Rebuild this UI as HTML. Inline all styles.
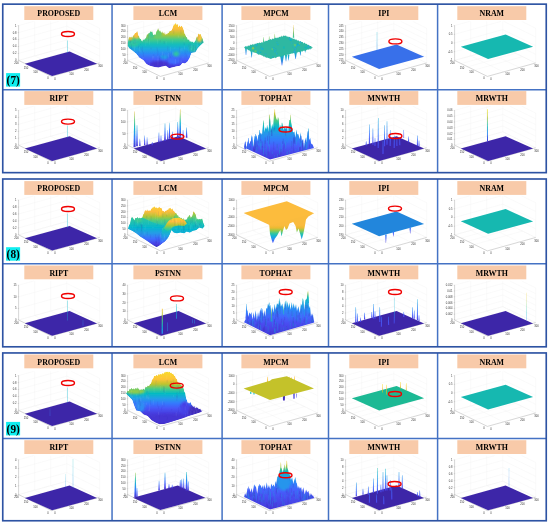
<!DOCTYPE html><html><head><meta charset="utf-8"><title>figure</title><style>
html,body{margin:0;padding:0;background:#fff}body{width:550px;height:526px;position:relative;overflow:hidden}
svg{position:absolute;left:0;top:0;display:block}text{font-family:"Liberation Sans",sans-serif}.lb text,.nb text{font-family:"Liberation Serif",serif;font-weight:bold;text-anchor:middle;fill:#000}
</style></head><body>
<svg width="550" height="526" viewBox="0 0 550 526"><defs><filter id="soft" filterUnits="userSpaceOnUse" x="0" y="0" width="550" height="526"><feGaussianBlur stdDeviation="0.4"/></filter><linearGradient id="g1" gradientUnits="userSpaceOnUse" x1="0" y1="40.6" x2="0" y2="53"><stop offset="0%" stop-color="#01b9c6"/><stop offset="25%" stop-color="#02b7cb"/><stop offset="50%" stop-color="#07b5d0"/><stop offset="75%" stop-color="#0fb2d5"/><stop offset="100%" stop-color="#15afd9"/></linearGradient><linearGradient id="g2" gradientUnits="userSpaceOnUse" x1="0" y1="32" x2="0" y2="51"><stop offset="0%" stop-color="#05b6ce"/><stop offset="25%" stop-color="#18addb"/><stop offset="50%" stop-color="#21a3e3"/><stop offset="75%" stop-color="#2798ea"/><stop offset="100%" stop-color="#2d8cf3"/></linearGradient><linearGradient id="g3" gradientUnits="userSpaceOnUse" x1="0" y1="44" x2="0" y2="48"><stop offset="0%" stop-color="#1caadf"/><stop offset="25%" stop-color="#21a3e3"/><stop offset="50%" stop-color="#259ce7"/><stop offset="75%" stop-color="#2994ed"/><stop offset="100%" stop-color="#2d8cf3"/></linearGradient><linearGradient id="g4" gradientUnits="userSpaceOnUse" x1="0" y1="125.6" x2="0" y2="137.6"><stop offset="0%" stop-color="#01b9c6"/><stop offset="25%" stop-color="#02b7cb"/><stop offset="50%" stop-color="#07b5d0"/><stop offset="75%" stop-color="#0fb2d5"/><stop offset="100%" stop-color="#15afd9"/></linearGradient><linearGradient id="g5" gradientUnits="userSpaceOnUse" x1="0" y1="111.6" x2="0" y2="147.3"><stop offset="0%" stop-color="#eaba31"/><stop offset="25%" stop-color="#54cc7d"/><stop offset="50%" stop-color="#11b1d6"/><stop offset="75%" stop-color="#3678fd"/><stop offset="100%" stop-color="#4536d3"/></linearGradient><linearGradient id="g6" gradientUnits="userSpaceOnUse" x1="0" y1="125.2" x2="0" y2="146.3"><stop offset="0%" stop-color="#15afd9"/><stop offset="25%" stop-color="#2895ec"/><stop offset="50%" stop-color="#3876fe"/><stop offset="75%" stop-color="#4755f6"/><stop offset="100%" stop-color="#4536d3"/></linearGradient><linearGradient id="g7" gradientUnits="userSpaceOnUse" x1="0" y1="138.8" x2="0" y2="146"><stop offset="0%" stop-color="#347afd"/><stop offset="25%" stop-color="#4368fd"/><stop offset="50%" stop-color="#4757f7"/><stop offset="75%" stop-color="#4746ea"/><stop offset="100%" stop-color="#4536d3"/></linearGradient><linearGradient id="g8" gradientUnits="userSpaceOnUse" x1="0" y1="135.6" x2="0" y2="145.2"><stop offset="0%" stop-color="#2d8cf3"/><stop offset="25%" stop-color="#3876fe"/><stop offset="50%" stop-color="#465ffb"/><stop offset="75%" stop-color="#484aee"/><stop offset="100%" stop-color="#4536d3"/></linearGradient><linearGradient id="g9" gradientUnits="userSpaceOnUse" x1="0" y1="137.2" x2="0" y2="145.2"><stop offset="0%" stop-color="#2e85f8"/><stop offset="25%" stop-color="#3d70ff"/><stop offset="50%" stop-color="#475cfa"/><stop offset="75%" stop-color="#4848ec"/><stop offset="100%" stop-color="#4536d3"/></linearGradient><linearGradient id="g10" gradientUnits="userSpaceOnUse" x1="0" y1="142" x2="0" y2="145.2"><stop offset="0%" stop-color="#4367fd"/><stop offset="25%" stop-color="#475af9"/><stop offset="50%" stop-color="#484ef1"/><stop offset="75%" stop-color="#4741e5"/><stop offset="100%" stop-color="#4536d3"/></linearGradient><linearGradient id="g11" gradientUnits="userSpaceOnUse" x1="0" y1="132.4" x2="0" y2="142.5"><stop offset="0%" stop-color="#2a92ee"/><stop offset="25%" stop-color="#327cfc"/><stop offset="50%" stop-color="#4563fd"/><stop offset="75%" stop-color="#484cef"/><stop offset="100%" stop-color="#4536d3"/></linearGradient><linearGradient id="g12" gradientUnits="userSpaceOnUse" x1="0" y1="135.6" x2="0" y2="142"><stop offset="0%" stop-color="#2e85f8"/><stop offset="25%" stop-color="#3d70ff"/><stop offset="50%" stop-color="#475cfa"/><stop offset="75%" stop-color="#4848ec"/><stop offset="100%" stop-color="#4536d3"/></linearGradient><linearGradient id="g13" gradientUnits="userSpaceOnUse" x1="0" y1="123.6" x2="0" y2="140.9"><stop offset="0%" stop-color="#1caadf"/><stop offset="25%" stop-color="#2b91ef"/><stop offset="50%" stop-color="#3b72ff"/><stop offset="75%" stop-color="#4853f5"/><stop offset="100%" stop-color="#4536d3"/></linearGradient><linearGradient id="g14" gradientUnits="userSpaceOnUse" x1="0" y1="130" x2="0" y2="139.9"><stop offset="0%" stop-color="#2d8cf3"/><stop offset="25%" stop-color="#3876fe"/><stop offset="50%" stop-color="#465ffb"/><stop offset="75%" stop-color="#484aee"/><stop offset="100%" stop-color="#4536d3"/></linearGradient><linearGradient id="g15" gradientUnits="userSpaceOnUse" x1="0" y1="122.8" x2="0" y2="138.8"><stop offset="0%" stop-color="#1caadf"/><stop offset="25%" stop-color="#2b91ef"/><stop offset="50%" stop-color="#3b72ff"/><stop offset="75%" stop-color="#4853f5"/><stop offset="100%" stop-color="#4536d3"/></linearGradient><linearGradient id="g16" gradientUnits="userSpaceOnUse" x1="0" y1="131.6" x2="0" y2="138"><stop offset="0%" stop-color="#2d8cf3"/><stop offset="25%" stop-color="#3876fe"/><stop offset="50%" stop-color="#465ffb"/><stop offset="75%" stop-color="#484aee"/><stop offset="100%" stop-color="#4536d3"/></linearGradient><linearGradient id="g17" gradientUnits="userSpaceOnUse" x1="0" y1="122" x2="0" y2="138"><stop offset="0%" stop-color="#15afd9"/><stop offset="25%" stop-color="#2895ec"/><stop offset="50%" stop-color="#3876fe"/><stop offset="75%" stop-color="#4755f6"/><stop offset="100%" stop-color="#4536d3"/></linearGradient><linearGradient id="g18" gradientUnits="userSpaceOnUse" x1="0" y1="109.2" x2="0" y2="136.7"><stop offset="0%" stop-color="#fec13a"/><stop offset="25%" stop-color="#73cd63"/><stop offset="50%" stop-color="#03b7cc"/><stop offset="75%" stop-color="#317dfc"/><stop offset="100%" stop-color="#4536d3"/></linearGradient><linearGradient id="g19" gradientUnits="userSpaceOnUse" x1="0" y1="130" x2="0" y2="136.7"><stop offset="0%" stop-color="#2d8cf3"/><stop offset="25%" stop-color="#3876fe"/><stop offset="50%" stop-color="#465ffb"/><stop offset="75%" stop-color="#484aee"/><stop offset="100%" stop-color="#4536d3"/></linearGradient><linearGradient id="g20" gradientUnits="userSpaceOnUse" x1="0" y1="127.6" x2="0" y2="137.7"><stop offset="0%" stop-color="#20a4e3"/><stop offset="25%" stop-color="#2d8cf3"/><stop offset="50%" stop-color="#3f6eff"/><stop offset="75%" stop-color="#4851f4"/><stop offset="100%" stop-color="#4536d3"/></linearGradient><linearGradient id="g21" gradientUnits="userSpaceOnUse" x1="0" y1="141.2" x2="0" y2="145.5"><stop offset="0%" stop-color="#416bfe"/><stop offset="25%" stop-color="#4660fc"/><stop offset="50%" stop-color="#4757f7"/><stop offset="75%" stop-color="#484df0"/><stop offset="100%" stop-color="#4743e7"/></linearGradient><linearGradient id="g22" gradientUnits="userSpaceOnUse" x1="0" y1="124.4" x2="0" y2="144.1"><stop offset="0%" stop-color="#249fe6"/><stop offset="25%" stop-color="#2d8af4"/><stop offset="50%" stop-color="#3b72ff"/><stop offset="75%" stop-color="#475af9"/><stop offset="100%" stop-color="#4743e7"/></linearGradient><linearGradient id="g23" gradientUnits="userSpaceOnUse" x1="0" y1="128.4" x2="0" y2="144.7"><stop offset="0%" stop-color="#2699ea"/><stop offset="25%" stop-color="#2e85f8"/><stop offset="50%" stop-color="#3f6eff"/><stop offset="75%" stop-color="#4758f8"/><stop offset="100%" stop-color="#4743e7"/></linearGradient><linearGradient id="g24" gradientUnits="userSpaceOnUse" x1="0" y1="138" x2="0" y2="146"><stop offset="0%" stop-color="#3876fe"/><stop offset="25%" stop-color="#4369fe"/><stop offset="50%" stop-color="#475cfa"/><stop offset="75%" stop-color="#4850f2"/><stop offset="100%" stop-color="#4743e7"/></linearGradient><linearGradient id="g25" gradientUnits="userSpaceOnUse" x1="0" y1="118" x2="0" y2="147.9"><stop offset="0%" stop-color="#15afd9"/><stop offset="25%" stop-color="#2699ea"/><stop offset="50%" stop-color="#317efb"/><stop offset="75%" stop-color="#465ffb"/><stop offset="100%" stop-color="#4743e7"/></linearGradient><linearGradient id="g26" gradientUnits="userSpaceOnUse" x1="0" y1="125.2" x2="0" y2="146.3"><stop offset="0%" stop-color="#249fe6"/><stop offset="25%" stop-color="#2d8af4"/><stop offset="50%" stop-color="#3b72ff"/><stop offset="75%" stop-color="#475af9"/><stop offset="100%" stop-color="#4743e7"/></linearGradient><linearGradient id="g27" gradientUnits="userSpaceOnUse" x1="0" y1="121.2" x2="0" y2="144.7"><stop offset="0%" stop-color="#20a4e3"/><stop offset="25%" stop-color="#2c8ff1"/><stop offset="50%" stop-color="#3876fe"/><stop offset="75%" stop-color="#475cfa"/><stop offset="100%" stop-color="#4743e7"/></linearGradient><linearGradient id="g28" gradientUnits="userSpaceOnUse" x1="0" y1="130" x2="0" y2="146"><stop offset="0%" stop-color="#2a92ee"/><stop offset="25%" stop-color="#3080fb"/><stop offset="50%" stop-color="#416bfe"/><stop offset="75%" stop-color="#4757f7"/><stop offset="100%" stop-color="#4743e7"/></linearGradient><linearGradient id="g29" gradientUnits="userSpaceOnUse" x1="0" y1="135.6" x2="0" y2="147.9"><stop offset="0%" stop-color="#2d8cf3"/><stop offset="25%" stop-color="#347afd"/><stop offset="50%" stop-color="#4367fd"/><stop offset="75%" stop-color="#4755f6"/><stop offset="100%" stop-color="#4743e7"/></linearGradient><linearGradient id="g30" gradientUnits="userSpaceOnUse" x1="0" y1="140.4" x2="0" y2="154"><stop offset="0%" stop-color="#317efb"/><stop offset="25%" stop-color="#3f6eff"/><stop offset="50%" stop-color="#465ffb"/><stop offset="75%" stop-color="#4851f4"/><stop offset="100%" stop-color="#4743e7"/></linearGradient><linearGradient id="g31" gradientUnits="userSpaceOnUse" x1="0" y1="138" x2="0" y2="146"><stop offset="0%" stop-color="#3876fe"/><stop offset="25%" stop-color="#4369fe"/><stop offset="50%" stop-color="#475cfa"/><stop offset="75%" stop-color="#4850f2"/><stop offset="100%" stop-color="#4743e7"/></linearGradient><linearGradient id="g32" gradientUnits="userSpaceOnUse" x1="0" y1="138.8" x2="0" y2="145.2"><stop offset="0%" stop-color="#416bfe"/><stop offset="25%" stop-color="#4660fc"/><stop offset="50%" stop-color="#4757f7"/><stop offset="75%" stop-color="#484df0"/><stop offset="100%" stop-color="#4743e7"/></linearGradient><linearGradient id="g33" gradientUnits="userSpaceOnUse" x1="0" y1="130" x2="0" y2="138"><stop offset="0%" stop-color="#317efb"/><stop offset="25%" stop-color="#3f6eff"/><stop offset="50%" stop-color="#465ffb"/><stop offset="75%" stop-color="#4851f4"/><stop offset="100%" stop-color="#4743e7"/></linearGradient><linearGradient id="g34" gradientUnits="userSpaceOnUse" x1="0" y1="136.4" x2="0" y2="142.2"><stop offset="0%" stop-color="#317efb"/><stop offset="25%" stop-color="#3f6eff"/><stop offset="50%" stop-color="#465ffb"/><stop offset="75%" stop-color="#4851f4"/><stop offset="100%" stop-color="#4743e7"/></linearGradient><linearGradient id="g35" gradientUnits="userSpaceOnUse" x1="0" y1="135.6" x2="0" y2="146"><stop offset="0%" stop-color="#2d8cf3"/><stop offset="25%" stop-color="#347afd"/><stop offset="50%" stop-color="#4367fd"/><stop offset="75%" stop-color="#4755f6"/><stop offset="100%" stop-color="#4743e7"/></linearGradient><linearGradient id="g36" gradientUnits="userSpaceOnUse" x1="0" y1="140.4" x2="0" y2="146.3"><stop offset="0%" stop-color="#3876fe"/><stop offset="25%" stop-color="#4369fe"/><stop offset="50%" stop-color="#475cfa"/><stop offset="75%" stop-color="#4850f2"/><stop offset="100%" stop-color="#4743e7"/></linearGradient><linearGradient id="g37" gradientUnits="userSpaceOnUse" x1="0" y1="109.2" x2="0" y2="141.5"><stop offset="0%" stop-color="#f5e825"/><stop offset="25%" stop-color="#bbc430"/><stop offset="50%" stop-color="#1ec0b2"/><stop offset="75%" stop-color="#2d8bf4"/><stop offset="100%" stop-color="#463cde"/></linearGradient><linearGradient id="g38" gradientUnits="userSpaceOnUse" x1="0" y1="213.6" x2="0" y2="227.6"><stop offset="0%" stop-color="#01b9c6"/><stop offset="25%" stop-color="#02b7cb"/><stop offset="50%" stop-color="#07b5d0"/><stop offset="75%" stop-color="#0fb2d5"/><stop offset="100%" stop-color="#15afd9"/></linearGradient><linearGradient id="g39" gradientUnits="userSpaceOnUse" x1="0" y1="234.4" x2="0" y2="243"><stop offset="0%" stop-color="#2d8cf3"/><stop offset="33.3%" stop-color="#406dfe"/><stop offset="66.7%" stop-color="#484ff2"/><stop offset="100%" stop-color="#4433cc"/></linearGradient><linearGradient id="g40" gradientUnits="userSpaceOnUse" x1="0" y1="231.2" x2="0" y2="236.6"><stop offset="0%" stop-color="#2d8cf3"/><stop offset="33.3%" stop-color="#406dfe"/><stop offset="66.7%" stop-color="#484ff2"/><stop offset="100%" stop-color="#4433cc"/></linearGradient><linearGradient id="g41" gradientUnits="userSpaceOnUse" x1="0" y1="227.2" x2="0" y2="233.4"><stop offset="0%" stop-color="#2d8cf3"/><stop offset="33.3%" stop-color="#406dfe"/><stop offset="66.7%" stop-color="#484ff2"/><stop offset="100%" stop-color="#4433cc"/></linearGradient><linearGradient id="g42" gradientUnits="userSpaceOnUse" x1="0" y1="210.4" x2="0" y2="214"><stop offset="0%" stop-color="#1caadf"/><stop offset="25%" stop-color="#21a3e3"/><stop offset="50%" stop-color="#259ce7"/><stop offset="75%" stop-color="#2994ed"/><stop offset="100%" stop-color="#2d8cf3"/></linearGradient><linearGradient id="g43" gradientUnits="userSpaceOnUse" x1="0" y1="300.6" x2="0" y2="320.4"><stop offset="0%" stop-color="#01b9c6"/><stop offset="25%" stop-color="#02b7cb"/><stop offset="50%" stop-color="#07b5d0"/><stop offset="75%" stop-color="#0fb2d5"/><stop offset="100%" stop-color="#15afd9"/></linearGradient><linearGradient id="g44" gradientUnits="userSpaceOnUse" x1="0" y1="320" x2="0" y2="326"><stop offset="0%" stop-color="#1caadf"/><stop offset="25%" stop-color="#259ce7"/><stop offset="50%" stop-color="#2d8cf3"/><stop offset="75%" stop-color="#347afd"/><stop offset="100%" stop-color="#4367fd"/></linearGradient><linearGradient id="g45" gradientUnits="userSpaceOnUse" x1="0" y1="308.8" x2="0" y2="333.8"><stop offset="0%" stop-color="#fec437"/><stop offset="25%" stop-color="#b0c636"/><stop offset="50%" stop-color="#3bc992"/><stop offset="75%" stop-color="#0ab4d2"/><stop offset="100%" stop-color="#2d8cf3"/></linearGradient><linearGradient id="g46" gradientUnits="userSpaceOnUse" x1="0" y1="304" x2="0" y2="318.7"><stop offset="0%" stop-color="#01b9c6"/><stop offset="25%" stop-color="#04b6cd"/><stop offset="50%" stop-color="#0eb3d4"/><stop offset="75%" stop-color="#16afda"/><stop offset="100%" stop-color="#1caadf"/></linearGradient><linearGradient id="g47" gradientUnits="userSpaceOnUse" x1="0" y1="322.4" x2="0" y2="331.2"><stop offset="0%" stop-color="#2d8cf3"/><stop offset="25%" stop-color="#2994ed"/><stop offset="50%" stop-color="#259ce7"/><stop offset="75%" stop-color="#21a3e3"/><stop offset="100%" stop-color="#1caadf"/></linearGradient><linearGradient id="g48" gradientUnits="userSpaceOnUse" x1="0" y1="319.2" x2="0" y2="323.2"><stop offset="0%" stop-color="#2d8cf3"/><stop offset="25%" stop-color="#2994ed"/><stop offset="50%" stop-color="#259ce7"/><stop offset="75%" stop-color="#21a3e3"/><stop offset="100%" stop-color="#1caadf"/></linearGradient><linearGradient id="g49" gradientUnits="userSpaceOnUse" x1="0" y1="319.7" x2="0" y2="323.5"><stop offset="0%" stop-color="#2d8cf3"/><stop offset="25%" stop-color="#2994ed"/><stop offset="50%" stop-color="#259ce7"/><stop offset="75%" stop-color="#21a3e3"/><stop offset="100%" stop-color="#1caadf"/></linearGradient><linearGradient id="g50" gradientUnits="userSpaceOnUse" x1="0" y1="307.2" x2="0" y2="322.6"><stop offset="0%" stop-color="#20a4e3"/><stop offset="25%" stop-color="#2c8ff1"/><stop offset="50%" stop-color="#3876fe"/><stop offset="75%" stop-color="#475cfa"/><stop offset="100%" stop-color="#4743e7"/></linearGradient><linearGradient id="g51" gradientUnits="userSpaceOnUse" x1="0" y1="313.6" x2="0" y2="322.6"><stop offset="0%" stop-color="#2d8cf3"/><stop offset="25%" stop-color="#347afd"/><stop offset="50%" stop-color="#4367fd"/><stop offset="75%" stop-color="#4755f6"/><stop offset="100%" stop-color="#4743e7"/></linearGradient><linearGradient id="g52" gradientUnits="userSpaceOnUse" x1="0" y1="317.6" x2="0" y2="321.9"><stop offset="0%" stop-color="#416bfe"/><stop offset="25%" stop-color="#4660fc"/><stop offset="50%" stop-color="#4757f7"/><stop offset="75%" stop-color="#484df0"/><stop offset="100%" stop-color="#4743e7"/></linearGradient><linearGradient id="g53" gradientUnits="userSpaceOnUse" x1="0" y1="312.8" x2="0" y2="319.4"><stop offset="0%" stop-color="#2f81fa"/><stop offset="25%" stop-color="#3c71ff"/><stop offset="50%" stop-color="#4561fc"/><stop offset="75%" stop-color="#4852f4"/><stop offset="100%" stop-color="#4743e7"/></linearGradient><linearGradient id="g54" gradientUnits="userSpaceOnUse" x1="0" y1="312" x2="0" y2="317.8"><stop offset="0%" stop-color="#317efb"/><stop offset="25%" stop-color="#3f6eff"/><stop offset="50%" stop-color="#465ffb"/><stop offset="75%" stop-color="#4851f4"/><stop offset="100%" stop-color="#4743e7"/></linearGradient><linearGradient id="g55" gradientUnits="userSpaceOnUse" x1="0" y1="304" x2="0" y2="318.7"><stop offset="0%" stop-color="#249fe6"/><stop offset="25%" stop-color="#2d8af4"/><stop offset="50%" stop-color="#3b72ff"/><stop offset="75%" stop-color="#475af9"/><stop offset="100%" stop-color="#4743e7"/></linearGradient><linearGradient id="g56" gradientUnits="userSpaceOnUse" x1="0" y1="311.2" x2="0" y2="318.7"><stop offset="0%" stop-color="#2f81fa"/><stop offset="25%" stop-color="#3c71ff"/><stop offset="50%" stop-color="#4561fc"/><stop offset="75%" stop-color="#4852f4"/><stop offset="100%" stop-color="#4743e7"/></linearGradient><linearGradient id="g57" gradientUnits="userSpaceOnUse" x1="0" y1="307.2" x2="0" y2="321.9"><stop offset="0%" stop-color="#249fe6"/><stop offset="25%" stop-color="#2d8af4"/><stop offset="50%" stop-color="#3b72ff"/><stop offset="75%" stop-color="#475af9"/><stop offset="100%" stop-color="#4743e7"/></linearGradient><linearGradient id="g58" gradientUnits="userSpaceOnUse" x1="0" y1="316.8" x2="0" y2="326.7"><stop offset="0%" stop-color="#317efb"/><stop offset="25%" stop-color="#3f6eff"/><stop offset="50%" stop-color="#465ffb"/><stop offset="75%" stop-color="#4851f4"/><stop offset="100%" stop-color="#4743e7"/></linearGradient><linearGradient id="g59" gradientUnits="userSpaceOnUse" x1="0" y1="316.8" x2="0" y2="325.1"><stop offset="0%" stop-color="#317efb"/><stop offset="25%" stop-color="#3f6eff"/><stop offset="50%" stop-color="#465ffb"/><stop offset="75%" stop-color="#4851f4"/><stop offset="100%" stop-color="#4743e7"/></linearGradient><linearGradient id="g60" gradientUnits="userSpaceOnUse" x1="0" y1="312" x2="0" y2="323.5"><stop offset="0%" stop-color="#20a4e3"/><stop offset="25%" stop-color="#2c8ff1"/><stop offset="50%" stop-color="#3876fe"/><stop offset="75%" stop-color="#475cfa"/><stop offset="100%" stop-color="#4743e7"/></linearGradient><linearGradient id="g61" gradientUnits="userSpaceOnUse" x1="0" y1="312" x2="0" y2="317.1"><stop offset="0%" stop-color="#3876fe"/><stop offset="25%" stop-color="#4369fe"/><stop offset="50%" stop-color="#475cfa"/><stop offset="75%" stop-color="#4850f2"/><stop offset="100%" stop-color="#4743e7"/></linearGradient><linearGradient id="g62" gradientUnits="userSpaceOnUse" x1="0" y1="307.2" x2="0" y2="318.7"><stop offset="0%" stop-color="#2699ea"/><stop offset="25%" stop-color="#2e85f8"/><stop offset="50%" stop-color="#3f6eff"/><stop offset="75%" stop-color="#4758f8"/><stop offset="100%" stop-color="#4743e7"/></linearGradient><linearGradient id="g63" gradientUnits="userSpaceOnUse" x1="0" y1="310.4" x2="0" y2="318.7"><stop offset="0%" stop-color="#2e85f8"/><stop offset="25%" stop-color="#3974fe"/><stop offset="50%" stop-color="#4563fd"/><stop offset="75%" stop-color="#4853f5"/><stop offset="100%" stop-color="#4743e7"/></linearGradient><linearGradient id="g64" gradientUnits="userSpaceOnUse" x1="0" y1="299.2" x2="0" y2="320.3"><stop offset="0%" stop-color="#19addc"/><stop offset="25%" stop-color="#2796eb"/><stop offset="50%" stop-color="#327cfc"/><stop offset="75%" stop-color="#465ffb"/><stop offset="100%" stop-color="#4743e7"/></linearGradient><linearGradient id="g65" gradientUnits="userSpaceOnUse" x1="0" y1="315.2" x2="0" y2="321"><stop offset="0%" stop-color="#3876fe"/><stop offset="25%" stop-color="#4369fe"/><stop offset="50%" stop-color="#475cfa"/><stop offset="75%" stop-color="#4850f2"/><stop offset="100%" stop-color="#4743e7"/></linearGradient><linearGradient id="g66" gradientUnits="userSpaceOnUse" x1="0" y1="297.6" x2="0" y2="312.8"><stop offset="0%" stop-color="#05b6ce"/><stop offset="25%" stop-color="#0cb3d3"/><stop offset="50%" stop-color="#13b0d7"/><stop offset="75%" stop-color="#18addb"/><stop offset="100%" stop-color="#1caadf"/></linearGradient><linearGradient id="g67" gradientUnits="userSpaceOnUse" x1="0" y1="292.8" x2="0" y2="320.3"><stop offset="0%" stop-color="#fad42e"/><stop offset="25%" stop-color="#c8c129"/><stop offset="50%" stop-color="#48cb86"/><stop offset="75%" stop-color="#05b6ce"/><stop offset="100%" stop-color="#2d8cf3"/></linearGradient><linearGradient id="g68" gradientUnits="userSpaceOnUse" x1="0" y1="387.6" x2="0" y2="402.4"><stop offset="0%" stop-color="#01b9c6"/><stop offset="25%" stop-color="#02b7cb"/><stop offset="50%" stop-color="#07b5d0"/><stop offset="75%" stop-color="#0fb2d5"/><stop offset="100%" stop-color="#15afd9"/></linearGradient><linearGradient id="g69" gradientUnits="userSpaceOnUse" x1="0" y1="408" x2="0" y2="416"><stop offset="0%" stop-color="#1caadf"/><stop offset="25%" stop-color="#259ce7"/><stop offset="50%" stop-color="#2d8cf3"/><stop offset="75%" stop-color="#347afd"/><stop offset="100%" stop-color="#4367fd"/></linearGradient><linearGradient id="g70" gradientUnits="userSpaceOnUse" x1="0" y1="384" x2="0" y2="392.4"><stop offset="0%" stop-color="#f5e825"/><stop offset="25%" stop-color="#fccf30"/><stop offset="50%" stop-color="#f8ba3d"/><stop offset="75%" stop-color="#d2bf27"/><stop offset="100%" stop-color="#9fc942"/></linearGradient><linearGradient id="g71" gradientUnits="userSpaceOnUse" x1="0" y1="384.8" x2="0" y2="394.4"><stop offset="0%" stop-color="#f5e825"/><stop offset="25%" stop-color="#fccf30"/><stop offset="50%" stop-color="#f8ba3d"/><stop offset="75%" stop-color="#d2bf27"/><stop offset="100%" stop-color="#9fc942"/></linearGradient><linearGradient id="g72" gradientUnits="userSpaceOnUse" x1="0" y1="382" x2="0" y2="388.4"><stop offset="0%" stop-color="#f5e825"/><stop offset="25%" stop-color="#fccf30"/><stop offset="50%" stop-color="#f8ba3d"/><stop offset="75%" stop-color="#d2bf27"/><stop offset="100%" stop-color="#9fc942"/></linearGradient><linearGradient id="g73" gradientUnits="userSpaceOnUse" x1="0" y1="383.2" x2="0" y2="390.8"><stop offset="0%" stop-color="#f5e825"/><stop offset="25%" stop-color="#fccf30"/><stop offset="50%" stop-color="#f8ba3d"/><stop offset="75%" stop-color="#d2bf27"/><stop offset="100%" stop-color="#9fc942"/></linearGradient><linearGradient id="g74" gradientUnits="userSpaceOnUse" x1="0" y1="474" x2="0" y2="487"><stop offset="0%" stop-color="#05b6ce"/><stop offset="25%" stop-color="#18addb"/><stop offset="50%" stop-color="#21a3e3"/><stop offset="75%" stop-color="#2798ea"/><stop offset="100%" stop-color="#2d8cf3"/></linearGradient><linearGradient id="g75" gradientUnits="userSpaceOnUse" x1="0" y1="459" x2="0" y2="488"><stop offset="0%" stop-color="#12beb9"/><stop offset="25%" stop-color="#05b6ce"/><stop offset="50%" stop-color="#1caadf"/><stop offset="75%" stop-color="#259ce7"/><stop offset="100%" stop-color="#2d8cf3"/></linearGradient><linearGradient id="g76" gradientUnits="userSpaceOnUse" x1="0" y1="472.8" x2="0" y2="497"><stop offset="0%" stop-color="#9fc942"/><stop offset="25%" stop-color="#2cc4a7"/><stop offset="50%" stop-color="#20a4e3"/><stop offset="75%" stop-color="#3f6eff"/><stop offset="100%" stop-color="#4536d3"/></linearGradient><linearGradient id="g77" gradientUnits="userSpaceOnUse" x1="0" y1="488" x2="0" y2="497"><stop offset="0%" stop-color="#2d8cf3"/><stop offset="25%" stop-color="#3876fe"/><stop offset="50%" stop-color="#465ffb"/><stop offset="75%" stop-color="#484aee"/><stop offset="100%" stop-color="#4536d3"/></linearGradient><linearGradient id="g78" gradientUnits="userSpaceOnUse" x1="0" y1="480.8" x2="0" y2="490.6"><stop offset="0%" stop-color="#2d8cf3"/><stop offset="25%" stop-color="#3876fe"/><stop offset="50%" stop-color="#465ffb"/><stop offset="75%" stop-color="#484aee"/><stop offset="100%" stop-color="#4536d3"/></linearGradient><linearGradient id="g79" gradientUnits="userSpaceOnUse" x1="0" y1="472.8" x2="0" y2="489"><stop offset="0%" stop-color="#1caadf"/><stop offset="25%" stop-color="#2b91ef"/><stop offset="50%" stop-color="#3b72ff"/><stop offset="75%" stop-color="#4853f5"/><stop offset="100%" stop-color="#4536d3"/></linearGradient><linearGradient id="g80" gradientUnits="userSpaceOnUse" x1="0" y1="484" x2="0" y2="488.3"><stop offset="0%" stop-color="#347afd"/><stop offset="25%" stop-color="#4368fd"/><stop offset="50%" stop-color="#4757f7"/><stop offset="75%" stop-color="#4746ea"/><stop offset="100%" stop-color="#4536d3"/></linearGradient><linearGradient id="g81" gradientUnits="userSpaceOnUse" x1="0" y1="484.8" x2="0" y2="488.3"><stop offset="0%" stop-color="#347afd"/><stop offset="25%" stop-color="#4368fd"/><stop offset="50%" stop-color="#4757f7"/><stop offset="75%" stop-color="#4746ea"/><stop offset="100%" stop-color="#4536d3"/></linearGradient><linearGradient id="g82" gradientUnits="userSpaceOnUse" x1="0" y1="480" x2="0" y2="487.4"><stop offset="0%" stop-color="#2d8cf3"/><stop offset="25%" stop-color="#3876fe"/><stop offset="50%" stop-color="#465ffb"/><stop offset="75%" stop-color="#484aee"/><stop offset="100%" stop-color="#4536d3"/></linearGradient><linearGradient id="g83" gradientUnits="userSpaceOnUse" x1="0" y1="479.2" x2="0" y2="488.3"><stop offset="0%" stop-color="#2a92ee"/><stop offset="25%" stop-color="#327cfc"/><stop offset="50%" stop-color="#4563fd"/><stop offset="75%" stop-color="#484cef"/><stop offset="100%" stop-color="#4536d3"/></linearGradient><linearGradient id="g84" gradientUnits="userSpaceOnUse" x1="0" y1="478.4" x2="0" y2="489"><stop offset="0%" stop-color="#2699ea"/><stop offset="25%" stop-color="#2f81fa"/><stop offset="50%" stop-color="#4367fd"/><stop offset="75%" stop-color="#484ef1"/><stop offset="100%" stop-color="#4536d3"/></linearGradient><linearGradient id="g85" gradientUnits="userSpaceOnUse" x1="0" y1="472" x2="0" y2="490.6"><stop offset="0%" stop-color="#12beb9"/><stop offset="25%" stop-color="#1ea7e1"/><stop offset="50%" stop-color="#2e85f8"/><stop offset="75%" stop-color="#475cfa"/><stop offset="100%" stop-color="#4536d3"/></linearGradient><linearGradient id="g86" gradientUnits="userSpaceOnUse" x1="0" y1="481.6" x2="0" y2="490.6"><stop offset="0%" stop-color="#2d8cf3"/><stop offset="25%" stop-color="#3876fe"/><stop offset="50%" stop-color="#465ffb"/><stop offset="75%" stop-color="#484aee"/><stop offset="100%" stop-color="#4536d3"/></linearGradient><linearGradient id="g87" gradientUnits="userSpaceOnUse" x1="0" y1="482.4" x2="0" y2="496.3"><stop offset="0%" stop-color="#20a4e3"/><stop offset="25%" stop-color="#2c8ff1"/><stop offset="50%" stop-color="#3876fe"/><stop offset="75%" stop-color="#475cfa"/><stop offset="100%" stop-color="#4743e7"/></linearGradient><linearGradient id="g88" gradientUnits="userSpaceOnUse" x1="0" y1="488.8" x2="0" y2="494.7"><stop offset="0%" stop-color="#317efb"/><stop offset="25%" stop-color="#3f6eff"/><stop offset="50%" stop-color="#465ffb"/><stop offset="75%" stop-color="#4851f4"/><stop offset="100%" stop-color="#4743e7"/></linearGradient><linearGradient id="g89" gradientUnits="userSpaceOnUse" x1="0" y1="486.4" x2="0" y2="494.7"><stop offset="0%" stop-color="#2e85f8"/><stop offset="25%" stop-color="#3974fe"/><stop offset="50%" stop-color="#4563fd"/><stop offset="75%" stop-color="#4853f5"/><stop offset="100%" stop-color="#4743e7"/></linearGradient><linearGradient id="g90" gradientUnits="userSpaceOnUse" x1="0" y1="492.8" x2="0" y2="502.7"><stop offset="0%" stop-color="#3876fe"/><stop offset="25%" stop-color="#4369fe"/><stop offset="50%" stop-color="#475cfa"/><stop offset="75%" stop-color="#4850f2"/><stop offset="100%" stop-color="#4743e7"/></linearGradient><linearGradient id="g91" gradientUnits="userSpaceOnUse" x1="0" y1="478.4" x2="0" y2="493.1"><stop offset="0%" stop-color="#249fe6"/><stop offset="25%" stop-color="#2d8af4"/><stop offset="50%" stop-color="#3b72ff"/><stop offset="75%" stop-color="#475af9"/><stop offset="100%" stop-color="#4743e7"/></linearGradient><linearGradient id="g92" gradientUnits="userSpaceOnUse" x1="0" y1="468" x2="0" y2="493.8"><stop offset="0%" stop-color="#27c2ac"/><stop offset="25%" stop-color="#14b0d8"/><stop offset="50%" stop-color="#2b91ef"/><stop offset="75%" stop-color="#426afe"/><stop offset="100%" stop-color="#4743e7"/></linearGradient><linearGradient id="g93" gradientUnits="userSpaceOnUse" x1="0" y1="484.8" x2="0" y2="492.2"><stop offset="0%" stop-color="#2e85f8"/><stop offset="25%" stop-color="#3974fe"/><stop offset="50%" stop-color="#4563fd"/><stop offset="75%" stop-color="#4853f5"/><stop offset="100%" stop-color="#4743e7"/></linearGradient><linearGradient id="g94" gradientUnits="userSpaceOnUse" x1="0" y1="472" x2="0" y2="491.5"><stop offset="0%" stop-color="#19addc"/><stop offset="25%" stop-color="#2796eb"/><stop offset="50%" stop-color="#327cfc"/><stop offset="75%" stop-color="#465ffb"/><stop offset="100%" stop-color="#4743e7"/></linearGradient><linearGradient id="g95" gradientUnits="userSpaceOnUse" x1="0" y1="468.8" x2="0" y2="490.6"><stop offset="0%" stop-color="#01b9c6"/><stop offset="25%" stop-color="#21a4e3"/><stop offset="50%" stop-color="#2e87f7"/><stop offset="75%" stop-color="#4564fd"/><stop offset="100%" stop-color="#4743e7"/></linearGradient><linearGradient id="g96" gradientUnits="userSpaceOnUse" x1="0" y1="475.2" x2="0" y2="490.6"><stop offset="0%" stop-color="#249fe6"/><stop offset="25%" stop-color="#2d8af4"/><stop offset="50%" stop-color="#3b72ff"/><stop offset="75%" stop-color="#475af9"/><stop offset="100%" stop-color="#4743e7"/></linearGradient><linearGradient id="g97" gradientUnits="userSpaceOnUse" x1="0" y1="480" x2="0" y2="490.6"><stop offset="0%" stop-color="#2a92ee"/><stop offset="25%" stop-color="#3080fb"/><stop offset="50%" stop-color="#416bfe"/><stop offset="75%" stop-color="#4757f7"/><stop offset="100%" stop-color="#4743e7"/></linearGradient><linearGradient id="g98" gradientUnits="userSpaceOnUse" x1="0" y1="472" x2="0" y2="486.7"><stop offset="0%" stop-color="#20a4e3"/><stop offset="25%" stop-color="#2c8ff1"/><stop offset="50%" stop-color="#3876fe"/><stop offset="75%" stop-color="#475cfa"/><stop offset="100%" stop-color="#4743e7"/></linearGradient><linearGradient id="g99" gradientUnits="userSpaceOnUse" x1="0" y1="475.2" x2="0" y2="488.3"><stop offset="0%" stop-color="#2699ea"/><stop offset="25%" stop-color="#2e85f8"/><stop offset="50%" stop-color="#3f6eff"/><stop offset="75%" stop-color="#4758f8"/><stop offset="100%" stop-color="#4743e7"/></linearGradient><linearGradient id="g100" gradientUnits="userSpaceOnUse" x1="0" y1="494.4" x2="0" y2="502.7"><stop offset="0%" stop-color="#3876fe"/><stop offset="25%" stop-color="#4369fe"/><stop offset="50%" stop-color="#475cfa"/><stop offset="75%" stop-color="#4850f2"/><stop offset="100%" stop-color="#4743e7"/></linearGradient><linearGradient id="g101" gradientUnits="userSpaceOnUse" x1="0" y1="496" x2="0" y2="504.3"><stop offset="0%" stop-color="#3876fe"/><stop offset="25%" stop-color="#4369fe"/><stop offset="50%" stop-color="#475cfa"/><stop offset="75%" stop-color="#4850f2"/><stop offset="100%" stop-color="#4743e7"/></linearGradient><linearGradient id="g102" gradientUnits="userSpaceOnUse" x1="0" y1="488" x2="0" y2="499.5"><stop offset="0%" stop-color="#317efb"/><stop offset="25%" stop-color="#3f6eff"/><stop offset="50%" stop-color="#465ffb"/><stop offset="75%" stop-color="#4851f4"/><stop offset="100%" stop-color="#4743e7"/></linearGradient><linearGradient id="g103" gradientUnits="userSpaceOnUse" x1="0" y1="492" x2="0" y2="496.3"><stop offset="0%" stop-color="#3876fe"/><stop offset="25%" stop-color="#4369fe"/><stop offset="50%" stop-color="#475cfa"/><stop offset="75%" stop-color="#4850f2"/><stop offset="100%" stop-color="#4743e7"/></linearGradient><linearGradient id="g104" gradientUnits="userSpaceOnUse" x1="0" y1="490.4" x2="0" y2="497"><stop offset="0%" stop-color="#317efb"/><stop offset="25%" stop-color="#3f6eff"/><stop offset="50%" stop-color="#465ffb"/><stop offset="75%" stop-color="#4851f4"/><stop offset="100%" stop-color="#4743e7"/></linearGradient><linearGradient id="g105" gradientUnits="userSpaceOnUse" x1="0" y1="468" x2="0" y2="487.6"><stop offset="0%" stop-color="#259ce7"/><stop offset="25%" stop-color="#2994ed"/><stop offset="50%" stop-color="#2d8cf3"/><stop offset="75%" stop-color="#2e83f9"/><stop offset="100%" stop-color="#347afd"/></linearGradient><filter id="b1" x="-20%" y="-20%" width="140%" height="140%"><feGaussianBlur stdDeviation="0.9"/></filter><filter id="b2" x="-20%" y="-20%" width="140%" height="140%"><feGaussianBlur stdDeviation="0.35"/></filter><linearGradient id="g106" gradientUnits="userSpaceOnUse" x1="0" y1="22.6" x2="0" y2="68.2"><stop offset="0%" stop-color="#fad42e"/><stop offset="14%" stop-color="#fabb3d"/><stop offset="26.3%" stop-color="#b0c636"/><stop offset="36.8%" stop-color="#48cb86"/><stop offset="47.4%" stop-color="#12beb9"/><stop offset="57.9%" stop-color="#1caadf"/><stop offset="68.4%" stop-color="#2d88f6"/><stop offset="80.7%" stop-color="#465ffb"/><stop offset="91.2%" stop-color="#4743e7"/><stop offset="100%" stop-color="#4433cc"/></linearGradient><clipPath id="c107"><polygon points="127.7,45.8 128.2,40.3 129,37 130.2,37.8 131.2,36.6 132,38 133.1,35.7 134.3,34.8 135.1,33.1 136.2,32.9 137.2,31 138.2,35.5 139,36.1 139.9,38.4 141,39.1 142.1,41.5 143,38.8 143.9,40.1 144.9,38.6 145.9,38 146.7,34.5 147.8,34.3 148.8,33 149.5,33.2 150.2,31.3 151.3,31.9 152.2,31.3 153.1,35.3 154.3,34.6 155.5,35.1 156.5,31.5 157.3,30.5 158.1,27.8 159.3,31.8 160,30.1 161.2,33 162.3,31.1 163.1,33.4 164.2,31.5 165.1,35 165.8,32.8 167,34.6 167.7,32.4 168.8,32.8 169.5,31 170.7,31.1 171.9,29.7 172.7,27.2 173.9,23.9 174.8,24.4 175.8,22.5 176.5,24.7 177.6,23.8 178.6,27.2 179.5,25 180.5,27 181.5,25.4 182.7,27.3 183.8,30 184.7,33.7 185.5,34.7 186.2,37 187.1,37.2 188,40 189.1,38.7 190,41.7 191,40.6 191.9,42.3 193,41 193.8,43 194.7,41.3 195.4,40.4 196.7,36.6 197.6,37.1 198.4,33.5 199.7,34.8 200.6,34.1 201.8,37.6 202.7,38.4 203.5,41.8 204.5,41.8 201,45 197.8,48.2 195.4,52.2 191.4,53 189.8,57.8 187.4,61.8 185,63.4 182.6,62.9 180.2,65.8 176.2,66.6 172.2,67.4 169,68.2 165.8,65.8 161.8,66.6 158.6,67.4 154.6,66.9 149.8,65.8 146.6,64.2 143.4,60.2 139.4,57.8 136.2,53.8 132.2,50.6 129,48.2"/></clipPath><linearGradient id="g108" gradientUnits="userSpaceOnUse" x1="0" y1="206" x2="0" y2="235.6"><stop offset="0%" stop-color="#fad42e"/><stop offset="18.9%" stop-color="#fabb3d"/><stop offset="35.1%" stop-color="#b0c636"/><stop offset="48.6%" stop-color="#58cc79"/><stop offset="64.9%" stop-color="#21c1b0"/><stop offset="81.1%" stop-color="#05b6ce"/><stop offset="100%" stop-color="#1caadf"/></linearGradient><clipPath id="c109"><polygon points="127.7,228.4 128.2,228.4 129.2,224.7 130,224.2 131.3,217.8 132.4,217.3 133.4,218.7 134.4,220.5 135.5,218.1 136.7,218.4 137.4,217.1 138.5,219 139.2,217.5 140,219 141.2,217.5 141.9,218.3 143.1,214.2 143.8,213.9 144.5,210.7 145.3,210.6 146.1,209.3 146.9,211.3 147.7,209.1 148.5,210.8 149.7,210.2 150.5,210.6 151.2,208.4 152.1,208.2 153.1,206.3 153.8,207.5 154.7,205.9 156,208.2 156.6,206.9 157.9,208.4 159.1,206.8 160.3,208.1 161.5,207.9 162.7,211.1 163.7,211 164.5,211.8 165.5,210.5 166.2,210.7 167.1,209.2 168,210 168.7,207.9 169.7,208.3 170.4,207.6 171.4,209.5 172.4,207.9 173.2,210.6 174.3,211 175.2,212.8 176.2,212.8 177.2,215.8 178,215 178.9,217.9 179.6,217 180.7,218.3 181.6,217.8 182.6,219.8 183.6,218.3 184.8,220.6 185.7,219.4 186.9,219.4 187.9,216.7 188.6,216.7 189.7,214.7 190.8,217.9 191.7,216.7 192.5,215.5 193.5,211.2 194.5,212.7 195.7,214.8 196.9,220 197.8,218.6 198.7,219.8 199.7,219.1 200.8,219.6 202.1,218.4 203.1,222.6 204.5,226 202.6,228.4 199.4,227.6 196.2,230 193,230.8 189.8,232.4 186.6,231.6 184.2,233.2 180.2,232.4 177,233.2 173.8,232.4 171.4,230 169.8,234 168.2,238 165,241.2 161.8,243.6 158.6,246 156.5,247.1 153.8,245.5 149.8,242.8 145,239.6 140.2,236.4 136.2,233.2 132.2,230.8 129,229.2"/></clipPath><linearGradient id="g110" gradientUnits="userSpaceOnUse" x1="0" y1="210.8" x2="0" y2="234"><stop offset="0%" stop-color="#eaba31"/><stop offset="17.2%" stop-color="#8dcb4f"/><stop offset="37.9%" stop-color="#3bc992"/><stop offset="58.6%" stop-color="#12beb9"/><stop offset="79.3%" stop-color="#05b6ce"/><stop offset="100%" stop-color="#15afd9"/></linearGradient><linearGradient id="g111" gradientUnits="userSpaceOnUse" x1="0" y1="215.6" x2="0" y2="247.6"><stop offset="0%" stop-color="#33c69d"/><stop offset="20%" stop-color="#21c1b0"/><stop offset="37.5%" stop-color="#05b6ce"/><stop offset="55%" stop-color="#259ce7"/><stop offset="72.5%" stop-color="#3f6eff"/><stop offset="88.5%" stop-color="#473fe3"/><stop offset="100%" stop-color="#402bb7"/></linearGradient><linearGradient id="g112" gradientUnits="userSpaceOnUse" x1="0" y1="224.4" x2="0" y2="246"><stop offset="0%" stop-color="#58cc79"/><stop offset="25.9%" stop-color="#12beb9"/><stop offset="51.9%" stop-color="#20a4e3"/><stop offset="81.5%" stop-color="#3f6eff"/><stop offset="100%" stop-color="#4743e7"/></linearGradient><linearGradient id="g113" gradientUnits="userSpaceOnUse" x1="0" y1="217.7" x2="0" y2="231.6"><stop offset="0%" stop-color="#fad42e"/><stop offset="27.6%" stop-color="#fdbd3d"/><stop offset="54%" stop-color="#b0c636"/><stop offset="77%" stop-color="#48cb86"/><stop offset="100%" stop-color="#12beb9"/></linearGradient><linearGradient id="g114" gradientUnits="userSpaceOnUse" x1="0" y1="371.2" x2="0" y2="424"><stop offset="0%" stop-color="#f7dc2a"/><stop offset="15.2%" stop-color="#fec437"/><stop offset="24.2%" stop-color="#c1c32d"/><stop offset="33.3%" stop-color="#48cb86"/><stop offset="42.4%" stop-color="#04bbc2"/><stop offset="51.5%" stop-color="#249fe6"/><stop offset="60.6%" stop-color="#347afd"/><stop offset="69.7%" stop-color="#4758f8"/><stop offset="80.3%" stop-color="#463cde"/><stop offset="100%" stop-color="#422ebe"/></linearGradient><clipPath id="c115"><polygon points="125.8,393.6 126.3,393.3 127.5,390.7 128.8,391.2 129.6,388.7 130.5,389.5 131.6,387.7 132.4,389.5 133.5,388.2 134.2,389.8 135.2,388 136.3,389.1 137.2,386.9 138,388.9 138.7,388.2 139.9,390.8 141,389.1 142.1,390 143.3,388.4 144.4,389.7 145.6,386.2 146.7,387.2 147.7,385.3 148.9,386 149.9,384.1 150.9,383.5 151.9,379.7 153,378.7 154.2,375.7 155.2,376.2 156.4,374.7 157.6,375.7 158.4,374 159.5,374.5 160.4,373.7 161.2,374.4 162.2,373 163.4,373.8 164.2,371.7 164.9,372.7 165.9,371.3 166.9,372.1 168.2,371.3 168.9,372.5 169.7,371.3 170.4,373.1 171.3,372.2 172.2,374 173.2,373.6 174.2,375.7 175.1,376 176.1,378.8 176.8,378.7 177.8,382 178.8,382.5 180,384.2 181.2,384.3 182,386.1 183.2,386.5 184.5,391.7 185.4,393.2 186.1,398.1 186.9,400 188,403.5 189,401.9 189.9,403.6 190.5,401.6 191.6,404.7 192.4,405.6 193.1,407 194.3,406.1 195,408.7 196.2,406.9 197,408.6 197.7,407.6 198.8,409.4 200.1,408.8 201.1,410.8 202.6,410.4 201,412 191.4,415.2 181.8,418.4 172.2,421.6 164.2,424 159.4,424.3 155.4,422.4 151.4,420 147.4,416 143.4,414.4 140.2,411.2 136.2,410.4 133.8,404.8 132.2,400 129,396.8"/></clipPath><linearGradient id="g116" gradientUnits="userSpaceOnUse" x1="0" y1="25" x2="0" y2="37.8"><stop offset="0%" stop-color="#fec13a"/><stop offset="100%" stop-color="#33c69d"/></linearGradient><linearGradient id="g117" gradientUnits="userSpaceOnUse" x1="0" y1="33.8" x2="0" y2="40.2"><stop offset="0%" stop-color="#9fc942"/><stop offset="100%" stop-color="#33c69d"/></linearGradient><linearGradient id="g118" gradientUnits="userSpaceOnUse" x1="0" y1="36.2" x2="0" y2="41.8"><stop offset="0%" stop-color="#8dcb4f"/><stop offset="100%" stop-color="#33c69d"/></linearGradient><linearGradient id="g119" gradientUnits="userSpaceOnUse" x1="0" y1="37" x2="0" y2="42.6"><stop offset="0%" stop-color="#7acc5d"/><stop offset="100%" stop-color="#33c69d"/></linearGradient><linearGradient id="g120" gradientUnits="userSpaceOnUse" x1="0" y1="35.4" x2="0" y2="38.6"><stop offset="0%" stop-color="#58cc79"/><stop offset="100%" stop-color="#33c69d"/></linearGradient><linearGradient id="g121" gradientUnits="userSpaceOnUse" x1="0" y1="48.2" x2="0" y2="52.2"><stop offset="0%" stop-color="#8dcb4f"/><stop offset="100%" stop-color="#33c69d"/></linearGradient><linearGradient id="g122" gradientUnits="userSpaceOnUse" x1="0" y1="46.6" x2="0" y2="54.9"><stop offset="0%" stop-color="#12beb9"/><stop offset="100%" stop-color="#347afd"/></linearGradient><linearGradient id="g123" gradientUnits="userSpaceOnUse" x1="0" y1="50.6" x2="0" y2="57.5"><stop offset="0%" stop-color="#12beb9"/><stop offset="100%" stop-color="#2e85f8"/></linearGradient><linearGradient id="g124" gradientUnits="userSpaceOnUse" x1="0" y1="54.6" x2="0" y2="65.5"><stop offset="0%" stop-color="#12beb9"/><stop offset="100%" stop-color="#4367fd"/></linearGradient><linearGradient id="g125" gradientUnits="userSpaceOnUse" x1="0" y1="54.9" x2="0" y2="61.3"><stop offset="0%" stop-color="#12beb9"/><stop offset="100%" stop-color="#2d8cf3"/></linearGradient><linearGradient id="g126" gradientUnits="userSpaceOnUse" x1="0" y1="54.3" x2="0" y2="60.4"><stop offset="0%" stop-color="#12beb9"/><stop offset="100%" stop-color="#2d8cf3"/></linearGradient><linearGradient id="g127" gradientUnits="userSpaceOnUse" x1="0" y1="51.7" x2="0" y2="59.1"><stop offset="0%" stop-color="#12beb9"/><stop offset="100%" stop-color="#347afd"/></linearGradient><linearGradient id="g128" gradientUnits="userSpaceOnUse" x1="0" y1="49.5" x2="0" y2="55.6"><stop offset="0%" stop-color="#12beb9"/><stop offset="100%" stop-color="#2d8cf3"/></linearGradient><linearGradient id="g129" gradientUnits="userSpaceOnUse" x1="0" y1="47.9" x2="0" y2="52.4"><stop offset="0%" stop-color="#12beb9"/><stop offset="100%" stop-color="#259ce7"/></linearGradient><linearGradient id="g130" gradientUnits="userSpaceOnUse" x1="0" y1="46.6" x2="0" y2="50.1"><stop offset="0%" stop-color="#12beb9"/><stop offset="100%" stop-color="#1caadf"/></linearGradient><clipPath id="c131"><polygon points="243.6,47.4 249.2,45 262,42.1 271.6,38.9 285.2,35.4 294,38.6 305.2,43.1 313.2,47.4 305.2,50.1 294,53 282.8,55.6 270,58.8 262,55.4 250.8,51.1"/></clipPath><linearGradient id="g132" gradientUnits="userSpaceOnUse" x1="0" y1="225.2" x2="0" y2="243.6"><stop offset="0%" stop-color="#fabb3d"/><stop offset="14.8%" stop-color="#eaba31"/><stop offset="30.4%" stop-color="#8dcb4f"/><stop offset="46.1%" stop-color="#2fc5a2"/><stop offset="61.7%" stop-color="#15afd9"/><stop offset="76.5%" stop-color="#2d8cf3"/><stop offset="89.6%" stop-color="#465ffb"/><stop offset="100%" stop-color="#463cde"/></linearGradient><linearGradient id="g133" gradientUnits="userSpaceOnUse" x1="0" y1="109.2" x2="0" y2="159.6"><stop offset="0%" stop-color="#fdcc32"/><stop offset="9.5%" stop-color="#c8c129"/><stop offset="22.2%" stop-color="#48cb86"/><stop offset="34.9%" stop-color="#05b6ce"/><stop offset="47.6%" stop-color="#2699ea"/><stop offset="60.3%" stop-color="#317efb"/><stop offset="73%" stop-color="#465ffb"/><stop offset="85.7%" stop-color="#4747eb"/><stop offset="100%" stop-color="#4539d9"/></linearGradient><linearGradient id="g134" gradientUnits="userSpaceOnUse" x1="0" y1="291.2" x2="0" y2="335.2"><stop offset="0%" stop-color="#c8c129"/><stop offset="14.5%" stop-color="#12beb9"/><stop offset="29.1%" stop-color="#20a4e3"/><stop offset="43.6%" stop-color="#2e85f8"/><stop offset="58.2%" stop-color="#4367fd"/><stop offset="72.7%" stop-color="#484ef1"/><stop offset="100%" stop-color="#4539d9"/></linearGradient><linearGradient id="g135" gradientUnits="userSpaceOnUse" x1="0" y1="308" x2="0" y2="321.6"><stop offset="0%" stop-color="#c8c129"/><stop offset="100%" stop-color="#05b6ce"/></linearGradient><linearGradient id="g136" gradientUnits="userSpaceOnUse" x1="0" y1="306.4" x2="0" y2="314.4"><stop offset="0%" stop-color="#48cb86"/><stop offset="100%" stop-color="#259ce7"/></linearGradient><linearGradient id="g137" gradientUnits="userSpaceOnUse" x1="0" y1="460.8" x2="0" y2="509.6"><stop offset="0%" stop-color="#fdcc32"/><stop offset="9.8%" stop-color="#b0c636"/><stop offset="21.3%" stop-color="#12beb9"/><stop offset="32.8%" stop-color="#20a4e3"/><stop offset="45.9%" stop-color="#2f81fa"/><stop offset="59%" stop-color="#4563fd"/><stop offset="75.4%" stop-color="#484ef1"/><stop offset="100%" stop-color="#4539d9"/></linearGradient></defs>
<rect width="550" height="526" fill="#fff"/>
<path d="M18.6 60.4L66.8 47M66.8 47L99.6 63M18.6 53.4L66.8 40M66.8 40L99.6 56M18.6 46.5L66.8 33.1M66.8 33.1L99.6 49.1M18.6 39.5L66.8 26.1M66.8 26.1L99.6 42.1M18.6 32.6L58.7 21.4M71.4 21.4L99.6 35.2M18.6 25.6L33.7 21.4M85.7 21.4L99.6 28.2M67.5 71.9L34.7 55.9M34.7 55.9L34.7 21.4M83.5 67.5L50.7 51.5M50.7 51.5L50.7 21.4M99.6 63L66.8 47M38.3 70L86.5 56.6M31.7 66.8L79.9 53.4M25.2 63.6L73.4 50.2M18.6 60.4L66.8 47M66.8 47L66.8 21.4M99.6 63L99.6 28.2M127.6 60.4L175.8 47M175.8 47L208.6 63M127.6 54.6L175.8 41.2M175.8 41.2L208.6 57.2M127.6 48.8L175.8 35.4M175.8 35.4L208.6 51.4M127.6 43L175.8 29.6M175.8 29.6L208.6 45.6M127.6 37.2L175.8 23.8M175.8 23.8L208.6 39.8M127.6 31.4L163.6 21.4M182.8 21.4L208.6 34M127.6 25.6L142.7 21.4M194.7 21.4L208.6 28.2M176.5 71.9L143.7 55.9M143.7 55.9L143.7 21.4M192.5 67.5L159.7 51.5M159.7 51.5L159.7 21.4M208.6 63L175.8 47M147.3 70L195.5 56.6M140.7 66.8L188.9 53.4M134.2 63.6L182.4 50.2M127.6 60.4L175.8 47M175.8 47L175.8 21.4M208.6 63L208.6 28.2M236.6 60.4L284.8 47M284.8 47L317.6 63M236.6 54.6L284.8 41.2M284.8 41.2L317.6 57.2M236.6 48.8L284.8 35.4M284.8 35.4L317.6 51.4M236.6 43L284.8 29.6M284.8 29.6L317.6 45.6M236.6 37.2L284.8 23.8M284.8 23.8L317.6 39.8M236.6 31.4L272.6 21.4M291.8 21.4L317.6 34M236.6 25.6L251.7 21.4M303.7 21.4L317.6 28.2M285.5 71.9L252.7 55.9M252.7 55.9L252.7 21.4M301.5 67.5L268.7 51.5M268.7 51.5L268.7 21.4M317.6 63L284.8 47M256.3 70L304.5 56.6M249.7 66.8L297.9 53.4M243.2 63.6L291.4 50.2M236.6 60.4L284.8 47M284.8 47L284.8 21.4M317.6 63L317.6 28.2M345.6 60.4L393.8 47M393.8 47L426.6 63M345.6 54.6L393.8 41.2M393.8 41.2L426.6 57.2M345.6 48.8L393.8 35.4M393.8 35.4L426.6 51.4M345.6 43L393.8 29.6M393.8 29.6L426.6 45.6M345.6 37.2L393.8 23.8M393.8 23.8L426.6 39.8M345.6 31.4L381.6 21.4M400.8 21.4L426.6 34M345.6 25.6L360.7 21.4M412.7 21.4L426.6 28.2M394.5 71.9L361.7 55.9M361.7 55.9L361.7 21.4M410.5 67.5L377.7 51.5M377.7 51.5L377.7 21.4M426.6 63L393.8 47M365.3 70L413.5 56.6M358.7 66.8L406.9 53.4M352.2 63.6L400.4 50.2M345.6 60.4L393.8 47M393.8 47L393.8 21.4M426.6 63L426.6 28.2M454.6 60.4L502.8 47M502.8 47L535.6 63M454.6 51.7L502.8 38.3M502.8 38.3L535.6 54.3M454.6 43L502.8 29.6M502.8 29.6L535.6 45.6M454.6 34.3L501 21.4M503.8 21.4L535.6 36.9M454.6 25.6L469.7 21.4M521.7 21.4L535.6 28.2M503.5 71.9L470.7 55.9M470.7 55.9L470.7 21.4M519.5 67.5L486.7 51.5M486.7 51.5L486.7 21.4M535.6 63L502.8 47M474.3 70L522.5 56.6M467.7 66.8L515.9 53.4M461.2 63.6L509.4 50.2M454.6 60.4L502.8 47M502.8 47L502.8 21.4M535.6 63L535.6 28.2M18.6 145.2L66.8 131.8M66.8 131.8L99.6 147.8M18.6 138.2L66.8 124.8M66.8 124.8L99.6 140.8M18.6 131.3L66.8 117.9M66.8 117.9L99.6 133.9M18.6 124.3L66.8 110.9M66.8 110.9L99.6 126.9M18.6 117.4L58.7 106.2M71.4 106.2L99.6 120M18.6 110.4L33.7 106.2M85.7 106.2L99.6 113M67.5 156.7L34.7 140.7M34.7 140.7L34.7 106.2M83.5 152.3L50.7 136.3M50.7 136.3L50.7 106.2M99.6 147.8L66.8 131.8M38.3 154.8L86.5 141.4M31.7 151.6L79.9 138.2M25.2 148.4L73.4 135M18.6 145.2L66.8 131.8M66.8 131.8L66.8 106.2M99.6 147.8L99.6 113M127.6 145.2L175.8 131.8M175.8 131.8L208.6 147.8M127.6 133.6L175.8 120.2M175.8 120.2L208.6 136.2M127.6 122L175.8 108.6M175.8 108.6L208.6 124.6M127.6 110.4L142.7 106.2M194.7 106.2L208.6 113M176.5 156.7L143.7 140.7M143.7 140.7L143.7 106.2M192.5 152.3L159.7 136.3M159.7 136.3L159.7 106.2M208.6 147.8L175.8 131.8M147.3 154.8L195.5 141.4M140.7 151.6L188.9 138.2M134.2 148.4L182.4 135M127.6 145.2L175.8 131.8M175.8 131.8L175.8 106.2M208.6 147.8L208.6 113M236.6 145.2L284.8 131.8M284.8 131.8L317.6 147.8M236.6 138.2L284.8 124.8M284.8 124.8L317.6 140.8M236.6 131.3L284.8 117.9M284.8 117.9L317.6 133.9M236.6 124.3L284.8 110.9M284.8 110.9L317.6 126.9M236.6 117.4L276.7 106.2M289.4 106.2L317.6 120M236.6 110.4L251.7 106.2M303.7 106.2L317.6 113M285.5 156.7L252.7 140.7M252.7 140.7L252.7 106.2M301.5 152.3L268.7 136.3M268.7 136.3L268.7 106.2M317.6 147.8L284.8 131.8M256.3 154.8L304.5 141.4M249.7 151.6L297.9 138.2M243.2 148.4L291.4 135M236.6 145.2L284.8 131.8M284.8 131.8L284.8 106.2M317.6 147.8L317.6 113M345.6 145.2L393.8 131.8M393.8 131.8L426.6 147.8M345.6 138.2L393.8 124.8M393.8 124.8L426.6 140.8M345.6 131.3L393.8 117.9M393.8 117.9L426.6 133.9M345.6 124.3L393.8 110.9M393.8 110.9L426.6 126.9M345.6 117.4L385.7 106.2M398.4 106.2L426.6 120M345.6 110.4L360.7 106.2M412.7 106.2L426.6 113M394.5 156.7L361.7 140.7M361.7 140.7L361.7 106.2M410.5 152.3L377.7 136.3M377.7 136.3L377.7 106.2M426.6 147.8L393.8 131.8M365.3 154.8L413.5 141.4M358.7 151.6L406.9 138.2M352.2 148.4L400.4 135M345.6 145.2L393.8 131.8M393.8 131.8L393.8 106.2M426.6 147.8L426.6 113M454.6 145.2L502.8 131.8M502.8 131.8L535.6 147.8M454.6 139.4L502.8 126M502.8 126L535.6 142M454.6 133.6L502.8 120.2M502.8 120.2L535.6 136.2M454.6 127.8L502.8 114.4M502.8 114.4L535.6 130.4M454.6 122L502.8 108.6M502.8 108.6L535.6 124.6M454.6 116.2L490.6 106.2M509.8 106.2L535.6 118.8M454.6 110.4L469.7 106.2M521.7 106.2L535.6 113M503.5 156.7L470.7 140.7M470.7 140.7L470.7 106.2M519.5 152.3L486.7 136.3M486.7 136.3L486.7 106.2M535.6 147.8L502.8 131.8M474.3 154.8L522.5 141.4M467.7 151.6L515.9 138.2M461.2 148.4L509.4 135M454.6 145.2L502.8 131.8M502.8 131.8L502.8 106.2M535.6 147.8L535.6 113M18.6 234.9L66.8 221.5M66.8 221.5L99.6 237.5M18.6 227.9L66.8 214.5M66.8 214.5L99.6 230.5M18.6 221L66.8 207.6M66.8 207.6L99.6 223.6M18.6 214L66.8 200.6M66.8 200.6L99.6 216.6M18.6 207.1L58.7 195.9M71.4 195.9L99.6 209.7M18.6 200.1L33.7 195.9M85.7 195.9L99.6 202.7M67.5 246.4L34.7 230.4M34.7 230.4L34.7 195.9M83.5 242L50.7 226M50.7 226L50.7 195.9M99.6 237.5L66.8 221.5M38.3 244.5L86.5 231.1M31.7 241.3L79.9 227.9M25.2 238.1L73.4 224.7M18.6 234.9L66.8 221.5M66.8 221.5L66.8 195.9M99.6 237.5L99.6 202.7M127.6 234.9L175.8 221.5M175.8 221.5L208.6 237.5M127.6 229.1L175.8 215.7M175.8 215.7L208.6 231.7M127.6 223.3L175.8 209.9M175.8 209.9L208.6 225.9M127.6 217.5L175.8 204.1M175.8 204.1L208.6 220.1M127.6 211.7L175.8 198.3M175.8 198.3L208.6 214.3M127.6 205.9L163.6 195.9M182.8 195.9L208.6 208.5M127.6 200.1L142.7 195.9M194.7 195.9L208.6 202.7M176.5 246.4L143.7 230.4M143.7 230.4L143.7 195.9M192.5 242L159.7 226M159.7 226L159.7 195.9M208.6 237.5L175.8 221.5M147.3 244.5L195.5 231.1M140.7 241.3L188.9 227.9M134.2 238.1L182.4 224.7M127.6 234.9L175.8 221.5M175.8 221.5L175.8 195.9M208.6 237.5L208.6 202.7M236.6 234.9L284.8 221.5M284.8 221.5L317.6 237.5M236.6 226.2L284.8 212.8M284.8 212.8L317.6 228.8M236.6 217.5L284.8 204.1M284.8 204.1L317.6 220.1M236.6 208.8L283 195.9M285.8 195.9L317.6 211.4M236.6 200.1L251.7 195.9M303.7 195.9L317.6 202.7M285.5 246.4L252.7 230.4M252.7 230.4L252.7 195.9M301.5 242L268.7 226M268.7 226L268.7 195.9M317.6 237.5L284.8 221.5M256.3 244.5L304.5 231.1M249.7 241.3L297.9 227.9M243.2 238.1L291.4 224.7M236.6 234.9L284.8 221.5M284.8 221.5L284.8 195.9M317.6 237.5L317.6 202.7M345.6 234.9L393.8 221.5M393.8 221.5L426.6 237.5M345.6 226.2L393.8 212.8M393.8 212.8L426.6 228.8M345.6 217.5L393.8 204.1M393.8 204.1L426.6 220.1M345.6 208.8L392 195.9M394.8 195.9L426.6 211.4M345.6 200.1L360.7 195.9M412.7 195.9L426.6 202.7M394.5 246.4L361.7 230.4M361.7 230.4L361.7 195.9M410.5 242L377.7 226M377.7 226L377.7 195.9M426.6 237.5L393.8 221.5M365.3 244.5L413.5 231.1M358.7 241.3L406.9 227.9M352.2 238.1L400.4 224.7M345.6 234.9L393.8 221.5M393.8 221.5L393.8 195.9M426.6 237.5L426.6 202.7M454.6 234.9L502.8 221.5M502.8 221.5L535.6 237.5M454.6 226.2L502.8 212.8M502.8 212.8L535.6 228.8M454.6 217.5L502.8 204.1M502.8 204.1L535.6 220.1M454.6 208.8L501 195.9M503.8 195.9L535.6 211.4M454.6 200.1L469.7 195.9M521.7 195.9L535.6 202.7M503.5 246.4L470.7 230.4M470.7 230.4L470.7 195.9M519.5 242L486.7 226M486.7 226L486.7 195.9M535.6 237.5L502.8 221.5M474.3 244.5L522.5 231.1M467.7 241.3L515.9 227.9M461.2 238.1L509.4 224.7M454.6 234.9L502.8 221.5M502.8 221.5L502.8 195.9M535.6 237.5L535.6 202.7M18.6 320L66.8 306.6M66.8 306.6L99.6 322.6M18.6 308.4L66.8 295M66.8 295L99.6 311M18.6 296.8L66.8 283.4M66.8 283.4L99.6 299.4M18.6 285.2L33.7 281M85.7 281L99.6 287.8M67.5 331.5L34.7 315.5M34.7 315.5L34.7 281M83.5 327.1L50.7 311.1M50.7 311.1L50.7 281M99.6 322.6L66.8 306.6M38.3 329.6L86.5 316.2M31.7 326.4L79.9 313M25.2 323.2L73.4 309.8M18.6 320L66.8 306.6M66.8 306.6L66.8 281M99.6 322.6L99.6 287.8M127.6 320L175.8 306.6M175.8 306.6L208.6 322.6M127.6 311.3L175.8 297.9M175.8 297.9L208.6 313.9M127.6 302.6L175.8 289.2M175.8 289.2L208.6 305.2M127.6 293.9L174 281M176.8 281L208.6 296.5M127.6 285.2L142.7 281M194.7 281L208.6 287.8M176.5 331.5L143.7 315.5M143.7 315.5L143.7 281M192.5 327.1L159.7 311.1M159.7 311.1L159.7 281M208.6 322.6L175.8 306.6M147.3 329.6L195.5 316.2M140.7 326.4L188.9 313M134.2 323.2L182.4 309.8M127.6 320L175.8 306.6M175.8 306.6L175.8 281M208.6 322.6L208.6 287.8M236.6 320L284.8 306.6M284.8 306.6L317.6 322.6M236.6 313L284.8 299.6M284.8 299.6L317.6 315.6M236.6 306.1L284.8 292.7M284.8 292.7L317.6 308.7M236.6 299.1L284.8 285.7M284.8 285.7L317.6 301.7M236.6 292.2L276.7 281M289.4 281L317.6 294.8M236.6 285.2L251.7 281M303.7 281L317.6 287.8M285.5 331.5L252.7 315.5M252.7 315.5L252.7 281M301.5 327.1L268.7 311.1M268.7 311.1L268.7 281M317.6 322.6L284.8 306.6M256.3 329.6L304.5 316.2M249.7 326.4L297.9 313M243.2 323.2L291.4 309.8M236.6 320L284.8 306.6M284.8 306.6L284.8 281M317.6 322.6L317.6 287.8M345.6 320L393.8 306.6M393.8 306.6L426.6 322.6M345.6 313L393.8 299.6M393.8 299.6L426.6 315.6M345.6 306.1L393.8 292.7M393.8 292.7L426.6 308.7M345.6 299.1L393.8 285.7M393.8 285.7L426.6 301.7M345.6 292.2L385.7 281M398.4 281L426.6 294.8M345.6 285.2L360.7 281M412.7 281L426.6 287.8M394.5 331.5L361.7 315.5M361.7 315.5L361.7 281M410.5 327.1L377.7 311.1M377.7 311.1L377.7 281M426.6 322.6L393.8 306.6M365.3 329.6L413.5 316.2M358.7 326.4L406.9 313M352.2 323.2L400.4 309.8M345.6 320L393.8 306.6M393.8 306.6L393.8 281M426.6 322.6L426.6 287.8M454.6 320L502.8 306.6M502.8 306.6L535.6 322.6M454.6 314.2L502.8 300.8M502.8 300.8L535.6 316.8M454.6 308.4L502.8 295M502.8 295L535.6 311M454.6 302.6L502.8 289.2M502.8 289.2L535.6 305.2M454.6 296.8L502.8 283.4M502.8 283.4L535.6 299.4M454.6 291L490.6 281M509.8 281L535.6 293.6M454.6 285.2L469.7 281M521.7 281L535.6 287.8M503.5 331.5L470.7 315.5M470.7 315.5L470.7 281M519.5 327.1L486.7 311.1M486.7 311.1L486.7 281M535.6 322.6L502.8 306.6M474.3 329.6L522.5 316.2M467.7 326.4L515.9 313M461.2 323.2L509.4 309.8M454.6 320L502.8 306.6M502.8 306.6L502.8 281M535.6 322.6L535.6 287.8M18.6 410.4L66.8 397M66.8 397L99.6 413M18.6 403.4L66.8 390M66.8 390L99.6 406M18.6 396.5L66.8 383.1M66.8 383.1L99.6 399.1M18.6 389.5L66.8 376.1M66.8 376.1L99.6 392.1M18.6 382.6L58.7 371.4M71.4 371.4L99.6 385.2M18.6 375.6L33.7 371.4M85.7 371.4L99.6 378.2M67.5 421.9L34.7 405.9M34.7 405.9L34.7 371.4M83.5 417.5L50.7 401.5M50.7 401.5L50.7 371.4M99.6 413L66.8 397M38.3 420L86.5 406.6M31.7 416.8L79.9 403.4M25.2 413.6L73.4 400.2M18.6 410.4L66.8 397M66.8 397L66.8 371.4M99.6 413L99.6 378.2M127.6 410.4L175.8 397M175.8 397L208.6 413M127.6 404.6L175.8 391.2M175.8 391.2L208.6 407.2M127.6 398.8L175.8 385.4M175.8 385.4L208.6 401.4M127.6 393L175.8 379.6M175.8 379.6L208.6 395.6M127.6 387.2L175.8 373.8M175.8 373.8L208.6 389.8M127.6 381.4L163.6 371.4M182.8 371.4L208.6 384M127.6 375.6L142.7 371.4M194.7 371.4L208.6 378.2M176.5 421.9L143.7 405.9M143.7 405.9L143.7 371.4M192.5 417.5L159.7 401.5M159.7 401.5L159.7 371.4M208.6 413L175.8 397M147.3 420L195.5 406.6M140.7 416.8L188.9 403.4M134.2 413.6L182.4 400.2M127.6 410.4L175.8 397M175.8 397L175.8 371.4M208.6 413L208.6 378.2M236.6 410.4L284.8 397M284.8 397L317.6 413M236.6 401.7L284.8 388.3M284.8 388.3L317.6 404.3M236.6 393L284.8 379.6M284.8 379.6L317.6 395.6M236.6 384.3L283 371.4M285.8 371.4L317.6 386.9M236.6 375.6L251.7 371.4M303.7 371.4L317.6 378.2M285.5 421.9L252.7 405.9M252.7 405.9L252.7 371.4M301.5 417.5L268.7 401.5M268.7 401.5L268.7 371.4M317.6 413L284.8 397M256.3 420L304.5 406.6M249.7 416.8L297.9 403.4M243.2 413.6L291.4 400.2M236.6 410.4L284.8 397M284.8 397L284.8 371.4M317.6 413L317.6 378.2M345.6 410.4L393.8 397M393.8 397L426.6 413M345.6 404.6L393.8 391.2M393.8 391.2L426.6 407.2M345.6 398.8L393.8 385.4M393.8 385.4L426.6 401.4M345.6 393L393.8 379.6M393.8 379.6L426.6 395.6M345.6 387.2L393.8 373.8M393.8 373.8L426.6 389.8M345.6 381.4L381.6 371.4M400.8 371.4L426.6 384M345.6 375.6L360.7 371.4M412.7 371.4L426.6 378.2M394.5 421.9L361.7 405.9M361.7 405.9L361.7 371.4M410.5 417.5L377.7 401.5M377.7 401.5L377.7 371.4M426.6 413L393.8 397M365.3 420L413.5 406.6M358.7 416.8L406.9 403.4M352.2 413.6L400.4 400.2M345.6 410.4L393.8 397M393.8 397L393.8 371.4M426.6 413L426.6 378.2M454.6 410.4L502.8 397M502.8 397L535.6 413M454.6 401.7L502.8 388.3M502.8 388.3L535.6 404.3M454.6 393L502.8 379.6M502.8 379.6L535.6 395.6M454.6 384.3L501 371.4M503.8 371.4L535.6 386.9M454.6 375.6L469.7 371.4M521.7 371.4L535.6 378.2M503.5 421.9L470.7 405.9M470.7 405.9L470.7 371.4M519.5 417.5L486.7 401.5M486.7 401.5L486.7 371.4M535.6 413L502.8 397M474.3 420L522.5 406.6M467.7 416.8L515.9 403.4M461.2 413.6L509.4 400.2M454.6 410.4L502.8 397M502.8 397L502.8 371.4M535.6 413L535.6 378.2M18.6 494.6L66.8 481.2M66.8 481.2L99.6 497.2M18.6 485.9L66.8 472.5M66.8 472.5L99.6 488.5M18.6 477.2L66.8 463.8M66.8 463.8L99.6 479.8M18.6 468.5L65 455.6M67.8 455.6L99.6 471.1M18.6 459.8L33.7 455.6M85.7 455.6L99.6 462.4M67.5 506.1L34.7 490.1M34.7 490.1L34.7 455.6M83.5 501.7L50.7 485.7M50.7 485.7L50.7 455.6M99.6 497.2L66.8 481.2M38.3 504.2L86.5 490.8M31.7 501L79.9 487.6M25.2 497.8L73.4 484.4M18.6 494.6L66.8 481.2M66.8 481.2L66.8 455.6M99.6 497.2L99.6 462.4M127.6 494.6L175.8 481.2M175.8 481.2L208.6 497.2M127.6 488.8L175.8 475.4M175.8 475.4L208.6 491.4M127.6 483L175.8 469.6M175.8 469.6L208.6 485.6M127.6 477.2L175.8 463.8M175.8 463.8L208.6 479.8M127.6 471.4L175.8 458M175.8 458L208.6 474M127.6 465.6L163.6 455.6M182.8 455.6L208.6 468.2M127.6 459.8L142.7 455.6M194.7 455.6L208.6 462.4M176.5 506.1L143.7 490.1M143.7 490.1L143.7 455.6M192.5 501.7L159.7 485.7M159.7 485.7L159.7 455.6M208.6 497.2L175.8 481.2M147.3 504.2L195.5 490.8M140.7 501L188.9 487.6M134.2 497.8L182.4 484.4M127.6 494.6L175.8 481.2M175.8 481.2L175.8 455.6M208.6 497.2L208.6 462.4M236.6 494.6L284.8 481.2M284.8 481.2L317.6 497.2M236.6 485.9L284.8 472.5M284.8 472.5L317.6 488.5M236.6 477.2L284.8 463.8M284.8 463.8L317.6 479.8M236.6 468.5L283 455.6M285.8 455.6L317.6 471.1M236.6 459.8L251.7 455.6M303.7 455.6L317.6 462.4M285.5 506.1L252.7 490.1M252.7 490.1L252.7 455.6M301.5 501.7L268.7 485.7M268.7 485.7L268.7 455.6M317.6 497.2L284.8 481.2M256.3 504.2L304.5 490.8M249.7 501L297.9 487.6M243.2 497.8L291.4 484.4M236.6 494.6L284.8 481.2M284.8 481.2L284.8 455.6M317.6 497.2L317.6 462.4M345.6 494.6L393.8 481.2M393.8 481.2L426.6 497.2M345.6 487.6L393.8 474.2M393.8 474.2L426.6 490.2M345.6 480.7L393.8 467.3M393.8 467.3L426.6 483.3M345.6 473.7L393.8 460.3M393.8 460.3L426.6 476.3M345.6 466.8L385.7 455.6M398.4 455.6L426.6 469.4M345.6 459.8L360.7 455.6M412.7 455.6L426.6 462.4M394.5 506.1L361.7 490.1M361.7 490.1L361.7 455.6M410.5 501.7L377.7 485.7M377.7 485.7L377.7 455.6M426.6 497.2L393.8 481.2M365.3 504.2L413.5 490.8M358.7 501L406.9 487.6M352.2 497.8L400.4 484.4M345.6 494.6L393.8 481.2M393.8 481.2L393.8 455.6M426.6 497.2L426.6 462.4M454.6 494.6L502.8 481.2M502.8 481.2L535.6 497.2M454.6 487.6L502.8 474.2M502.8 474.2L535.6 490.2M454.6 480.7L502.8 467.3M502.8 467.3L535.6 483.3M454.6 473.7L502.8 460.3M502.8 460.3L535.6 476.3M454.6 466.8L494.7 455.6M507.4 455.6L535.6 469.4M454.6 459.8L469.7 455.6M521.7 455.6L535.6 462.4M503.5 506.1L470.7 490.1M470.7 490.1L470.7 455.6M519.5 501.7L486.7 485.7M486.7 485.7L486.7 455.6M535.6 497.2L502.8 481.2M474.3 504.2L522.5 490.8M467.7 501L515.9 487.6M461.2 497.8L509.4 484.4M454.6 494.6L502.8 481.2M502.8 481.2L502.8 455.6M535.6 497.2L535.6 462.4" stroke="#efefef" stroke-width="0.3" fill="none"/>
<path d="M18.6 60.4L18.6 25.6M18.6 60.4L51.4 76.4M51.4 76.4L99.6 63M17.8 60.4L18.6 60.4M17.8 53.4L18.6 53.4M17.8 46.5L18.6 46.5M17.8 39.5L18.6 39.5M17.8 32.6L18.6 32.6M17.8 25.6L18.6 25.6M127.6 60.4L127.6 25.6M127.6 60.4L160.4 76.4M160.4 76.4L208.6 63M126.8 60.4L127.6 60.4M126.8 54.6L127.6 54.6M126.8 48.8L127.6 48.8M126.8 43L127.6 43M126.8 37.2L127.6 37.2M126.8 31.4L127.6 31.4M126.8 25.6L127.6 25.6M236.6 60.4L236.6 25.6M236.6 60.4L269.4 76.4M269.4 76.4L317.6 63M235.8 60.4L236.6 60.4M235.8 54.6L236.6 54.6M235.8 48.8L236.6 48.8M235.8 43L236.6 43M235.8 37.2L236.6 37.2M235.8 31.4L236.6 31.4M235.8 25.6L236.6 25.6M345.6 60.4L345.6 25.6M345.6 60.4L378.4 76.4M378.4 76.4L426.6 63M344.8 60.4L345.6 60.4M344.8 54.6L345.6 54.6M344.8 48.8L345.6 48.8M344.8 43L345.6 43M344.8 37.2L345.6 37.2M344.8 31.4L345.6 31.4M344.8 25.6L345.6 25.6M454.6 60.4L454.6 25.6M454.6 60.4L487.4 76.4M487.4 76.4L535.6 63M453.8 60.4L454.6 60.4M453.8 51.7L454.6 51.7M453.8 43L454.6 43M453.8 34.3L454.6 34.3M453.8 25.6L454.6 25.6M18.6 145.2L18.6 110.4M18.6 145.2L51.4 161.2M51.4 161.2L99.6 147.8M17.8 145.2L18.6 145.2M17.8 138.2L18.6 138.2M17.8 131.3L18.6 131.3M17.8 124.3L18.6 124.3M17.8 117.4L18.6 117.4M17.8 110.4L18.6 110.4M127.6 145.2L127.6 110.4M127.6 145.2L160.4 161.2M160.4 161.2L208.6 147.8M126.8 145.2L127.6 145.2M126.8 133.6L127.6 133.6M126.8 122L127.6 122M126.8 110.4L127.6 110.4M236.6 145.2L236.6 110.4M236.6 145.2L269.4 161.2M269.4 161.2L317.6 147.8M235.8 145.2L236.6 145.2M235.8 138.2L236.6 138.2M235.8 131.3L236.6 131.3M235.8 124.3L236.6 124.3M235.8 117.4L236.6 117.4M235.8 110.4L236.6 110.4M345.6 145.2L345.6 110.4M345.6 145.2L378.4 161.2M378.4 161.2L426.6 147.8M344.8 145.2L345.6 145.2M344.8 138.2L345.6 138.2M344.8 131.3L345.6 131.3M344.8 124.3L345.6 124.3M344.8 117.4L345.6 117.4M344.8 110.4L345.6 110.4M454.6 145.2L454.6 110.4M454.6 145.2L487.4 161.2M487.4 161.2L535.6 147.8M453.8 145.2L454.6 145.2M453.8 139.4L454.6 139.4M453.8 133.6L454.6 133.6M453.8 127.8L454.6 127.8M453.8 122L454.6 122M453.8 116.2L454.6 116.2M453.8 110.4L454.6 110.4M18.6 234.9L18.6 200.1M18.6 234.9L51.4 250.9M51.4 250.9L99.6 237.5M17.8 234.9L18.6 234.9M17.8 227.9L18.6 227.9M17.8 221L18.6 221M17.8 214L18.6 214M17.8 207.1L18.6 207.1M17.8 200.1L18.6 200.1M127.6 234.9L127.6 200.1M127.6 234.9L160.4 250.9M160.4 250.9L208.6 237.5M126.8 234.9L127.6 234.9M126.8 229.1L127.6 229.1M126.8 223.3L127.6 223.3M126.8 217.5L127.6 217.5M126.8 211.7L127.6 211.7M126.8 205.9L127.6 205.9M126.8 200.1L127.6 200.1M236.6 234.9L236.6 200.1M236.6 234.9L269.4 250.9M269.4 250.9L317.6 237.5M235.8 234.9L236.6 234.9M235.8 226.2L236.6 226.2M235.8 217.5L236.6 217.5M235.8 208.8L236.6 208.8M235.8 200.1L236.6 200.1M345.6 234.9L345.6 200.1M345.6 234.9L378.4 250.9M378.4 250.9L426.6 237.5M344.8 234.9L345.6 234.9M344.8 226.2L345.6 226.2M344.8 217.5L345.6 217.5M344.8 208.8L345.6 208.8M344.8 200.1L345.6 200.1M454.6 234.9L454.6 200.1M454.6 234.9L487.4 250.9M487.4 250.9L535.6 237.5M453.8 234.9L454.6 234.9M453.8 226.2L454.6 226.2M453.8 217.5L454.6 217.5M453.8 208.8L454.6 208.8M453.8 200.1L454.6 200.1M18.6 320L18.6 285.2M18.6 320L51.4 336M51.4 336L99.6 322.6M17.8 320L18.6 320M17.8 308.4L18.6 308.4M17.8 296.8L18.6 296.8M17.8 285.2L18.6 285.2M127.6 320L127.6 285.2M127.6 320L160.4 336M160.4 336L208.6 322.6M126.8 320L127.6 320M126.8 311.3L127.6 311.3M126.8 302.6L127.6 302.6M126.8 293.9L127.6 293.9M126.8 285.2L127.6 285.2M236.6 320L236.6 285.2M236.6 320L269.4 336M269.4 336L317.6 322.6M235.8 320L236.6 320M235.8 313L236.6 313M235.8 306.1L236.6 306.1M235.8 299.1L236.6 299.1M235.8 292.2L236.6 292.2M235.8 285.2L236.6 285.2M345.6 320L345.6 285.2M345.6 320L378.4 336M378.4 336L426.6 322.6M344.8 320L345.6 320M344.8 313L345.6 313M344.8 306.1L345.6 306.1M344.8 299.1L345.6 299.1M344.8 292.2L345.6 292.2M344.8 285.2L345.6 285.2M454.6 320L454.6 285.2M454.6 320L487.4 336M487.4 336L535.6 322.6M453.8 320L454.6 320M453.8 314.2L454.6 314.2M453.8 308.4L454.6 308.4M453.8 302.6L454.6 302.6M453.8 296.8L454.6 296.8M453.8 291L454.6 291M453.8 285.2L454.6 285.2M18.6 410.4L18.6 375.6M18.6 410.4L51.4 426.4M51.4 426.4L99.6 413M17.8 410.4L18.6 410.4M17.8 403.4L18.6 403.4M17.8 396.5L18.6 396.5M17.8 389.5L18.6 389.5M17.8 382.6L18.6 382.6M17.8 375.6L18.6 375.6M127.6 410.4L127.6 375.6M127.6 410.4L160.4 426.4M160.4 426.4L208.6 413M126.8 410.4L127.6 410.4M126.8 404.6L127.6 404.6M126.8 398.8L127.6 398.8M126.8 393L127.6 393M126.8 387.2L127.6 387.2M126.8 381.4L127.6 381.4M126.8 375.6L127.6 375.6M236.6 410.4L236.6 375.6M236.6 410.4L269.4 426.4M269.4 426.4L317.6 413M235.8 410.4L236.6 410.4M235.8 401.7L236.6 401.7M235.8 393L236.6 393M235.8 384.3L236.6 384.3M235.8 375.6L236.6 375.6M345.6 410.4L345.6 375.6M345.6 410.4L378.4 426.4M378.4 426.4L426.6 413M344.8 410.4L345.6 410.4M344.8 404.6L345.6 404.6M344.8 398.8L345.6 398.8M344.8 393L345.6 393M344.8 387.2L345.6 387.2M344.8 381.4L345.6 381.4M344.8 375.6L345.6 375.6M454.6 410.4L454.6 375.6M454.6 410.4L487.4 426.4M487.4 426.4L535.6 413M453.8 410.4L454.6 410.4M453.8 401.7L454.6 401.7M453.8 393L454.6 393M453.8 384.3L454.6 384.3M453.8 375.6L454.6 375.6M18.6 494.6L18.6 459.8M18.6 494.6L51.4 510.6M51.4 510.6L99.6 497.2M17.8 494.6L18.6 494.6M17.8 485.9L18.6 485.9M17.8 477.2L18.6 477.2M17.8 468.5L18.6 468.5M17.8 459.8L18.6 459.8M127.6 494.6L127.6 459.8M127.6 494.6L160.4 510.6M160.4 510.6L208.6 497.2M126.8 494.6L127.6 494.6M126.8 488.8L127.6 488.8M126.8 483L127.6 483M126.8 477.2L127.6 477.2M126.8 471.4L127.6 471.4M126.8 465.6L127.6 465.6M126.8 459.8L127.6 459.8M236.6 494.6L236.6 459.8M236.6 494.6L269.4 510.6M269.4 510.6L317.6 497.2M235.8 494.6L236.6 494.6M235.8 485.9L236.6 485.9M235.8 477.2L236.6 477.2M235.8 468.5L236.6 468.5M235.8 459.8L236.6 459.8M345.6 494.6L345.6 459.8M345.6 494.6L378.4 510.6M378.4 510.6L426.6 497.2M344.8 494.6L345.6 494.6M344.8 487.6L345.6 487.6M344.8 480.7L345.6 480.7M344.8 473.7L345.6 473.7M344.8 466.8L345.6 466.8M344.8 459.8L345.6 459.8M454.6 494.6L454.6 459.8M454.6 494.6L487.4 510.6M487.4 510.6L535.6 497.2M453.8 494.6L454.6 494.6M453.8 487.6L454.6 487.6M453.8 480.7L454.6 480.7M453.8 473.7L454.6 473.7M453.8 466.8L454.6 466.8M453.8 459.8L454.6 459.8" stroke="#8a8a8a" stroke-width="0.35" fill="none"/>
<g font-size="2.7" fill="#333" text-anchor="end"><text x="16.6" y="61.3">0</text><text x="16.6" y="54.3">0.2</text><text x="16.6" y="47.4">0.4</text><text x="16.6" y="40.4">0.6</text><text x="16.6" y="33.5">0.8</text><text x="16.6" y="26.5">1</text><text x="55.1" y="79.6" text-anchor="middle">0</text><text x="71.5" y="75" text-anchor="middle">100</text><text x="86.4" y="70.9" text-anchor="middle">200</text><text x="100.4" y="67" text-anchor="middle">300</text><text x="48.1" y="79.4" text-anchor="middle">0</text><text x="35.6" y="73.3" text-anchor="middle">100</text><text x="26.1" y="68.6" text-anchor="middle">150</text><text x="16.6" y="64" text-anchor="middle">200</text><text x="125.6" y="61.3">0</text><text x="125.6" y="55.5">50</text><text x="125.6" y="49.7">100</text><text x="125.6" y="43.9">150</text><text x="125.6" y="38.1">200</text><text x="125.6" y="32.3">250</text><text x="125.6" y="26.5">300</text><text x="164.1" y="79.6" text-anchor="middle">0</text><text x="180.5" y="75" text-anchor="middle">100</text><text x="195.4" y="70.9" text-anchor="middle">200</text><text x="209.4" y="67" text-anchor="middle">300</text><text x="157.1" y="79.4" text-anchor="middle">0</text><text x="144.6" y="73.3" text-anchor="middle">100</text><text x="135.1" y="68.6" text-anchor="middle">150</text><text x="125.6" y="64" text-anchor="middle">200</text><text x="234.6" y="61.3">-1500</text><text x="234.6" y="55.5">-1000</text><text x="234.6" y="49.7">-500</text><text x="234.6" y="43.9">0</text><text x="234.6" y="38.1">500</text><text x="234.6" y="32.3">1000</text><text x="234.6" y="26.5">1500</text><text x="273.1" y="79.6" text-anchor="middle">0</text><text x="289.5" y="75" text-anchor="middle">100</text><text x="304.4" y="70.9" text-anchor="middle">200</text><text x="318.4" y="67" text-anchor="middle">300</text><text x="266.1" y="79.4" text-anchor="middle">0</text><text x="253.6" y="73.3" text-anchor="middle">100</text><text x="244.1" y="68.6" text-anchor="middle">150</text><text x="234.6" y="64" text-anchor="middle">200</text><text x="343.6" y="61.3">215</text><text x="343.6" y="55.5">220</text><text x="343.6" y="49.7">225</text><text x="343.6" y="43.9">230</text><text x="343.6" y="38.1">235</text><text x="343.6" y="32.3">240</text><text x="343.6" y="26.5">245</text><text x="382.1" y="79.6" text-anchor="middle">0</text><text x="398.5" y="75" text-anchor="middle">100</text><text x="413.4" y="70.9" text-anchor="middle">200</text><text x="427.4" y="67" text-anchor="middle">300</text><text x="375.1" y="79.4" text-anchor="middle">0</text><text x="362.6" y="73.3" text-anchor="middle">100</text><text x="353.1" y="68.6" text-anchor="middle">150</text><text x="343.6" y="64" text-anchor="middle">200</text><text x="452.6" y="61.3">-1</text><text x="452.6" y="52.6">-0.5</text><text x="452.6" y="43.9">0</text><text x="452.6" y="35.2">0.5</text><text x="452.6" y="26.5">1</text><text x="491.1" y="79.6" text-anchor="middle">0</text><text x="507.5" y="75" text-anchor="middle">100</text><text x="522.4" y="70.9" text-anchor="middle">200</text><text x="536.4" y="67" text-anchor="middle">300</text><text x="484.1" y="79.4" text-anchor="middle">0</text><text x="471.6" y="73.3" text-anchor="middle">100</text><text x="462.1" y="68.6" text-anchor="middle">150</text><text x="452.6" y="64" text-anchor="middle">200</text><text x="16.6" y="146.1">0</text><text x="16.6" y="139.1">1</text><text x="16.6" y="132.2">2</text><text x="16.6" y="125.2">3</text><text x="16.6" y="118.3">4</text><text x="16.6" y="111.3">5</text><text x="55.1" y="164.4" text-anchor="middle">0</text><text x="71.5" y="159.8" text-anchor="middle">100</text><text x="86.4" y="155.7" text-anchor="middle">200</text><text x="100.4" y="151.8" text-anchor="middle">300</text><text x="48.1" y="164.2" text-anchor="middle">0</text><text x="35.6" y="158.1" text-anchor="middle">100</text><text x="26.1" y="153.4" text-anchor="middle">150</text><text x="16.6" y="148.8" text-anchor="middle">200</text><text x="125.6" y="146.1">0</text><text x="125.6" y="134.5">50</text><text x="125.6" y="122.9">100</text><text x="125.6" y="111.3">150</text><text x="164.1" y="164.4" text-anchor="middle">0</text><text x="180.5" y="159.8" text-anchor="middle">100</text><text x="195.4" y="155.7" text-anchor="middle">200</text><text x="209.4" y="151.8" text-anchor="middle">300</text><text x="157.1" y="164.2" text-anchor="middle">0</text><text x="144.6" y="158.1" text-anchor="middle">100</text><text x="135.1" y="153.4" text-anchor="middle">150</text><text x="125.6" y="148.8" text-anchor="middle">200</text><text x="234.6" y="146.1">0</text><text x="234.6" y="139.1">5</text><text x="234.6" y="132.2">10</text><text x="234.6" y="125.2">15</text><text x="234.6" y="118.3">20</text><text x="234.6" y="111.3">25</text><text x="273.1" y="164.4" text-anchor="middle">0</text><text x="289.5" y="159.8" text-anchor="middle">100</text><text x="304.4" y="155.7" text-anchor="middle">200</text><text x="318.4" y="151.8" text-anchor="middle">300</text><text x="266.1" y="164.2" text-anchor="middle">0</text><text x="253.6" y="158.1" text-anchor="middle">100</text><text x="244.1" y="153.4" text-anchor="middle">150</text><text x="234.6" y="148.8" text-anchor="middle">200</text><text x="343.6" y="146.1">0</text><text x="343.6" y="139.1">2</text><text x="343.6" y="132.2">4</text><text x="343.6" y="125.2">6</text><text x="343.6" y="118.3">8</text><text x="343.6" y="111.3">10</text><text x="382.1" y="164.4" text-anchor="middle">0</text><text x="398.5" y="159.8" text-anchor="middle">100</text><text x="413.4" y="155.7" text-anchor="middle">200</text><text x="427.4" y="151.8" text-anchor="middle">300</text><text x="375.1" y="164.2" text-anchor="middle">0</text><text x="362.6" y="158.1" text-anchor="middle">100</text><text x="353.1" y="153.4" text-anchor="middle">150</text><text x="343.6" y="148.8" text-anchor="middle">200</text><text x="452.6" y="146.1">0</text><text x="452.6" y="140.3">0.01</text><text x="452.6" y="134.5">0.02</text><text x="452.6" y="128.7">0.03</text><text x="452.6" y="122.9">0.04</text><text x="452.6" y="117.1">0.05</text><text x="452.6" y="111.3">0.06</text><text x="491.1" y="164.4" text-anchor="middle">0</text><text x="507.5" y="159.8" text-anchor="middle">100</text><text x="522.4" y="155.7" text-anchor="middle">200</text><text x="536.4" y="151.8" text-anchor="middle">300</text><text x="484.1" y="164.2" text-anchor="middle">0</text><text x="471.6" y="158.1" text-anchor="middle">100</text><text x="462.1" y="153.4" text-anchor="middle">150</text><text x="452.6" y="148.8" text-anchor="middle">200</text><text x="16.6" y="235.8">0</text><text x="16.6" y="228.8">0.2</text><text x="16.6" y="221.9">0.4</text><text x="16.6" y="214.9">0.6</text><text x="16.6" y="208">0.8</text><text x="16.6" y="201">1</text><text x="55.1" y="254.1" text-anchor="middle">0</text><text x="71.5" y="249.5" text-anchor="middle">100</text><text x="86.4" y="245.4" text-anchor="middle">200</text><text x="100.4" y="241.5" text-anchor="middle">300</text><text x="48.1" y="253.9" text-anchor="middle">0</text><text x="35.6" y="247.8" text-anchor="middle">100</text><text x="26.1" y="243.1" text-anchor="middle">150</text><text x="16.6" y="238.5" text-anchor="middle">200</text><text x="125.6" y="235.8">0</text><text x="125.6" y="230">50</text><text x="125.6" y="224.2">100</text><text x="125.6" y="218.4">150</text><text x="125.6" y="212.6">200</text><text x="125.6" y="206.8">250</text><text x="125.6" y="201">300</text><text x="164.1" y="254.1" text-anchor="middle">0</text><text x="180.5" y="249.5" text-anchor="middle">100</text><text x="195.4" y="245.4" text-anchor="middle">200</text><text x="209.4" y="241.5" text-anchor="middle">300</text><text x="157.1" y="253.9" text-anchor="middle">0</text><text x="144.6" y="247.8" text-anchor="middle">100</text><text x="135.1" y="243.1" text-anchor="middle">150</text><text x="125.6" y="238.5" text-anchor="middle">200</text><text x="234.6" y="235.8">-3000</text><text x="234.6" y="227.1">-2000</text><text x="234.6" y="218.4">-1000</text><text x="234.6" y="209.7">0</text><text x="234.6" y="201">1000</text><text x="273.1" y="254.1" text-anchor="middle">0</text><text x="289.5" y="249.5" text-anchor="middle">100</text><text x="304.4" y="245.4" text-anchor="middle">200</text><text x="318.4" y="241.5" text-anchor="middle">300</text><text x="266.1" y="253.9" text-anchor="middle">0</text><text x="253.6" y="247.8" text-anchor="middle">100</text><text x="244.1" y="243.1" text-anchor="middle">150</text><text x="234.6" y="238.5" text-anchor="middle">200</text><text x="343.6" y="235.8">190</text><text x="343.6" y="227.1">200</text><text x="343.6" y="218.4">210</text><text x="343.6" y="209.7">220</text><text x="343.6" y="201">230</text><text x="382.1" y="254.1" text-anchor="middle">0</text><text x="398.5" y="249.5" text-anchor="middle">100</text><text x="413.4" y="245.4" text-anchor="middle">200</text><text x="427.4" y="241.5" text-anchor="middle">300</text><text x="375.1" y="253.9" text-anchor="middle">0</text><text x="362.6" y="247.8" text-anchor="middle">100</text><text x="353.1" y="243.1" text-anchor="middle">150</text><text x="343.6" y="238.5" text-anchor="middle">200</text><text x="452.6" y="235.8">-1</text><text x="452.6" y="227.1">-0.5</text><text x="452.6" y="218.4">0</text><text x="452.6" y="209.7">0.5</text><text x="452.6" y="201">1</text><text x="491.1" y="254.1" text-anchor="middle">0</text><text x="507.5" y="249.5" text-anchor="middle">100</text><text x="522.4" y="245.4" text-anchor="middle">200</text><text x="536.4" y="241.5" text-anchor="middle">300</text><text x="484.1" y="253.9" text-anchor="middle">0</text><text x="471.6" y="247.8" text-anchor="middle">100</text><text x="462.1" y="243.1" text-anchor="middle">150</text><text x="452.6" y="238.5" text-anchor="middle">200</text><text x="16.6" y="320.9">0</text><text x="16.6" y="309.3">5</text><text x="16.6" y="297.7">10</text><text x="16.6" y="286.1">15</text><text x="55.1" y="339.2" text-anchor="middle">0</text><text x="71.5" y="334.6" text-anchor="middle">100</text><text x="86.4" y="330.5" text-anchor="middle">200</text><text x="100.4" y="326.6" text-anchor="middle">300</text><text x="48.1" y="339" text-anchor="middle">0</text><text x="35.6" y="332.9" text-anchor="middle">100</text><text x="26.1" y="328.2" text-anchor="middle">150</text><text x="16.6" y="323.6" text-anchor="middle">200</text><text x="125.6" y="320.9">0</text><text x="125.6" y="312.2">10</text><text x="125.6" y="303.5">20</text><text x="125.6" y="294.8">30</text><text x="125.6" y="286.1">40</text><text x="164.1" y="339.2" text-anchor="middle">0</text><text x="180.5" y="334.6" text-anchor="middle">100</text><text x="195.4" y="330.5" text-anchor="middle">200</text><text x="209.4" y="326.6" text-anchor="middle">300</text><text x="157.1" y="339" text-anchor="middle">0</text><text x="144.6" y="332.9" text-anchor="middle">100</text><text x="135.1" y="328.2" text-anchor="middle">150</text><text x="125.6" y="323.6" text-anchor="middle">200</text><text x="234.6" y="320.9">0</text><text x="234.6" y="313.9">5</text><text x="234.6" y="307">10</text><text x="234.6" y="300">15</text><text x="234.6" y="293.1">20</text><text x="234.6" y="286.1">25</text><text x="273.1" y="339.2" text-anchor="middle">0</text><text x="289.5" y="334.6" text-anchor="middle">100</text><text x="304.4" y="330.5" text-anchor="middle">200</text><text x="318.4" y="326.6" text-anchor="middle">300</text><text x="266.1" y="339" text-anchor="middle">0</text><text x="253.6" y="332.9" text-anchor="middle">100</text><text x="244.1" y="328.2" text-anchor="middle">150</text><text x="234.6" y="323.6" text-anchor="middle">200</text><text x="343.6" y="320.9">0</text><text x="343.6" y="313.9">2</text><text x="343.6" y="307">4</text><text x="343.6" y="300">6</text><text x="343.6" y="293.1">8</text><text x="343.6" y="286.1">10</text><text x="382.1" y="339.2" text-anchor="middle">0</text><text x="398.5" y="334.6" text-anchor="middle">100</text><text x="413.4" y="330.5" text-anchor="middle">200</text><text x="427.4" y="326.6" text-anchor="middle">300</text><text x="375.1" y="339" text-anchor="middle">0</text><text x="362.6" y="332.9" text-anchor="middle">100</text><text x="353.1" y="328.2" text-anchor="middle">150</text><text x="343.6" y="323.6" text-anchor="middle">200</text><text x="452.6" y="320.9">0</text><text x="452.6" y="315.1">0.002</text><text x="452.6" y="309.3">0.004</text><text x="452.6" y="303.5">0.006</text><text x="452.6" y="297.7">0.008</text><text x="452.6" y="291.9">0.01</text><text x="452.6" y="286.1">0.012</text><text x="491.1" y="339.2" text-anchor="middle">0</text><text x="507.5" y="334.6" text-anchor="middle">100</text><text x="522.4" y="330.5" text-anchor="middle">200</text><text x="536.4" y="326.6" text-anchor="middle">300</text><text x="484.1" y="339" text-anchor="middle">0</text><text x="471.6" y="332.9" text-anchor="middle">100</text><text x="462.1" y="328.2" text-anchor="middle">150</text><text x="452.6" y="323.6" text-anchor="middle">200</text><text x="16.6" y="411.3">0</text><text x="16.6" y="404.3">0.2</text><text x="16.6" y="397.4">0.4</text><text x="16.6" y="390.4">0.6</text><text x="16.6" y="383.5">0.8</text><text x="16.6" y="376.5">1</text><text x="55.1" y="429.6" text-anchor="middle">0</text><text x="71.5" y="425" text-anchor="middle">100</text><text x="86.4" y="420.9" text-anchor="middle">200</text><text x="100.4" y="417" text-anchor="middle">300</text><text x="48.1" y="429.4" text-anchor="middle">0</text><text x="35.6" y="423.3" text-anchor="middle">100</text><text x="26.1" y="418.6" text-anchor="middle">150</text><text x="16.6" y="414" text-anchor="middle">200</text><text x="125.6" y="411.3">0</text><text x="125.6" y="405.5">50</text><text x="125.6" y="399.7">100</text><text x="125.6" y="393.9">150</text><text x="125.6" y="388.1">200</text><text x="125.6" y="382.3">250</text><text x="125.6" y="376.5">300</text><text x="164.1" y="429.6" text-anchor="middle">0</text><text x="180.5" y="425" text-anchor="middle">100</text><text x="195.4" y="420.9" text-anchor="middle">200</text><text x="209.4" y="417" text-anchor="middle">300</text><text x="157.1" y="429.4" text-anchor="middle">0</text><text x="144.6" y="423.3" text-anchor="middle">100</text><text x="135.1" y="418.6" text-anchor="middle">150</text><text x="125.6" y="414" text-anchor="middle">200</text><text x="234.6" y="411.3">-3000</text><text x="234.6" y="402.6">-2000</text><text x="234.6" y="393.9">-1000</text><text x="234.6" y="385.2">0</text><text x="234.6" y="376.5">1000</text><text x="273.1" y="429.6" text-anchor="middle">0</text><text x="289.5" y="425" text-anchor="middle">100</text><text x="304.4" y="420.9" text-anchor="middle">200</text><text x="318.4" y="417" text-anchor="middle">300</text><text x="266.1" y="429.4" text-anchor="middle">0</text><text x="253.6" y="423.3" text-anchor="middle">100</text><text x="244.1" y="418.6" text-anchor="middle">150</text><text x="234.6" y="414" text-anchor="middle">200</text><text x="343.6" y="411.3">0</text><text x="343.6" y="405.5">50</text><text x="343.6" y="399.7">100</text><text x="343.6" y="393.9">150</text><text x="343.6" y="388.1">200</text><text x="343.6" y="382.3">250</text><text x="343.6" y="376.5">300</text><text x="382.1" y="429.6" text-anchor="middle">0</text><text x="398.5" y="425" text-anchor="middle">100</text><text x="413.4" y="420.9" text-anchor="middle">200</text><text x="427.4" y="417" text-anchor="middle">300</text><text x="375.1" y="429.4" text-anchor="middle">0</text><text x="362.6" y="423.3" text-anchor="middle">100</text><text x="353.1" y="418.6" text-anchor="middle">150</text><text x="343.6" y="414" text-anchor="middle">200</text><text x="452.6" y="411.3">-1</text><text x="452.6" y="402.6">-0.5</text><text x="452.6" y="393.9">0</text><text x="452.6" y="385.2">0.5</text><text x="452.6" y="376.5">1</text><text x="491.1" y="429.6" text-anchor="middle">0</text><text x="507.5" y="425" text-anchor="middle">100</text><text x="522.4" y="420.9" text-anchor="middle">200</text><text x="536.4" y="417" text-anchor="middle">300</text><text x="484.1" y="429.4" text-anchor="middle">0</text><text x="471.6" y="423.3" text-anchor="middle">100</text><text x="462.1" y="418.6" text-anchor="middle">150</text><text x="452.6" y="414" text-anchor="middle">200</text><text x="16.6" y="495.5">0</text><text x="16.6" y="486.8">1</text><text x="16.6" y="478.1">2</text><text x="16.6" y="469.4">3</text><text x="16.6" y="460.7">4</text><text x="55.1" y="513.8" text-anchor="middle">0</text><text x="71.5" y="509.2" text-anchor="middle">100</text><text x="86.4" y="505.1" text-anchor="middle">200</text><text x="100.4" y="501.2" text-anchor="middle">300</text><text x="48.1" y="513.6" text-anchor="middle">0</text><text x="35.6" y="507.5" text-anchor="middle">100</text><text x="26.1" y="502.8" text-anchor="middle">150</text><text x="16.6" y="498.2" text-anchor="middle">200</text><text x="125.6" y="495.5">0</text><text x="125.6" y="489.7">50</text><text x="125.6" y="483.9">100</text><text x="125.6" y="478.1">150</text><text x="125.6" y="472.3">200</text><text x="125.6" y="466.5">250</text><text x="125.6" y="460.7">300</text><text x="164.1" y="513.8" text-anchor="middle">0</text><text x="180.5" y="509.2" text-anchor="middle">100</text><text x="195.4" y="505.1" text-anchor="middle">200</text><text x="209.4" y="501.2" text-anchor="middle">300</text><text x="157.1" y="513.6" text-anchor="middle">0</text><text x="144.6" y="507.5" text-anchor="middle">100</text><text x="135.1" y="502.8" text-anchor="middle">150</text><text x="125.6" y="498.2" text-anchor="middle">200</text><text x="234.6" y="495.5">0</text><text x="234.6" y="486.8">10</text><text x="234.6" y="478.1">20</text><text x="234.6" y="469.4">30</text><text x="234.6" y="460.7">40</text><text x="273.1" y="513.8" text-anchor="middle">0</text><text x="289.5" y="509.2" text-anchor="middle">100</text><text x="304.4" y="505.1" text-anchor="middle">200</text><text x="318.4" y="501.2" text-anchor="middle">300</text><text x="266.1" y="513.6" text-anchor="middle">0</text><text x="253.6" y="507.5" text-anchor="middle">100</text><text x="244.1" y="502.8" text-anchor="middle">150</text><text x="234.6" y="498.2" text-anchor="middle">200</text><text x="343.6" y="495.5">0</text><text x="343.6" y="488.5">2</text><text x="343.6" y="481.6">4</text><text x="343.6" y="474.6">6</text><text x="343.6" y="467.7">8</text><text x="343.6" y="460.7">10</text><text x="382.1" y="513.8" text-anchor="middle">0</text><text x="398.5" y="509.2" text-anchor="middle">100</text><text x="413.4" y="505.1" text-anchor="middle">200</text><text x="427.4" y="501.2" text-anchor="middle">300</text><text x="375.1" y="513.6" text-anchor="middle">0</text><text x="362.6" y="507.5" text-anchor="middle">100</text><text x="353.1" y="502.8" text-anchor="middle">150</text><text x="343.6" y="498.2" text-anchor="middle">200</text><text x="452.6" y="495.5">0</text><text x="452.6" y="488.5">0.2</text><text x="452.6" y="481.6">0.4</text><text x="452.6" y="474.6">0.6</text><text x="452.6" y="467.7">0.8</text><text x="452.6" y="460.7">1</text><text x="491.1" y="513.8" text-anchor="middle">0</text><text x="507.5" y="509.2" text-anchor="middle">100</text><text x="522.4" y="505.1" text-anchor="middle">200</text><text x="536.4" y="501.2" text-anchor="middle">300</text><text x="484.1" y="513.6" text-anchor="middle">0</text><text x="471.6" y="507.5" text-anchor="middle">100</text><text x="462.1" y="502.8" text-anchor="middle">150</text><text x="452.6" y="498.2" text-anchor="middle">200</text></g>
<g filter="url(#soft)"><polygon points="24.8,63.7 69.6,51.4 97.1,63.8 52.1,76.1" fill="#3e26a8"/>
<polygon points="67,53 67,40.6 67.4,40.6 67.4,53" fill="url(#g1)" opacity="0.85"/>
<ellipse cx="68" cy="34" rx="6.5" ry="2.5" fill="none" stroke="#f00000" stroke-width="1.4"/>
<polygon points="351.8,56.7 396.6,44.4 424.1,56.8 379.1,69.1" fill="#386fea"/>
<polygon points="376.8,51 376.9,32 377.1,32 377.2,51" fill="url(#g2)"/>
<polygon points="394.8,48 394.9,44 395.1,44 395.2,48" fill="url(#g3)"/>
<ellipse cx="395.4" cy="41.4" rx="6.5" ry="2.5" fill="none" stroke="#f00000" stroke-width="1.4"/>
<polygon points="460.8,46.7 505.6,34.4 533.1,46.8 488.1,59.1" fill="#16b8b0"/>
<polygon points="24.8,148.5 69.6,136.2 97.1,148.6 52.1,160.9" fill="#3e26a8"/>
<polygon points="67,137.6 67,125.6 67.4,125.6 67.4,137.6" fill="url(#g4)" opacity="0.85"/>
<ellipse cx="68" cy="121.6" rx="6.5" ry="2.5" fill="none" stroke="#f00000" stroke-width="1.4"/>
<polygon points="133.8,148.5 178.6,136.2 206.1,148.6 161.1,160.9" fill="#3e26a8"/>
<polygon points="133.5,147.3 134.4,111.6 134.8,111.6 135.7,147.3" fill="url(#g5)"/>
<polygon points="136.1,146.3 136.8,125.2 137.2,125.2 137.9,146.3" fill="url(#g6)"/>
<polygon points="139.2,146 139.7,138.8 140,138.8 140.6,146" fill="url(#g7)"/>
<polygon points="144,145.2 144.5,135.6 144.8,135.6 145.4,145.2" fill="url(#g8)"/>
<polygon points="146.4,145.2 146.9,137.2 147.2,137.2 147.8,145.2" fill="url(#g9)"/>
<polygon points="151.5,145.2 152,142 152.4,142 152.9,145.2" fill="url(#g10)"/>
<polygon points="158.2,142.5 158.8,132.4 159.1,132.4 159.6,142.5" fill="url(#g11)"/>
<polygon points="160.3,142 160.8,135.6 161.2,135.6 161.7,142" fill="url(#g12)"/>
<polygon points="164.1,140.9 164.8,123.6 165.2,123.6 165.9,140.9" fill="url(#g13)"/>
<polygon points="167,139.9 167.6,130 167.9,130 168.4,139.9" fill="url(#g14)"/>
<polygon points="168.7,138.8 169.3,122.8 169.6,122.8 170.3,138.8" fill="url(#g15)"/>
<polygon points="171.8,138 172.4,131.6 172.7,131.6 173.2,138" fill="url(#g16)"/>
<polygon points="176.9,138 177.6,122 178,122 178.7,138" fill="url(#g17)"/>
<polygon points="179.2,136.7 180,109.2 180.4,109.2 181.2,136.7" fill="url(#g18)"/>
<polygon points="182.4,136.7 182.9,130 183.2,130 183.8,136.7" fill="url(#g19)"/>
<polygon points="185.8,137.7 186.4,127.6 186.8,127.6 187.4,137.7" fill="url(#g20)"/>
<ellipse cx="177.4" cy="136.6" rx="6.5" ry="2.5" fill="none" stroke="#f00000" stroke-width="1.4"/>
<polygon points="351.8,148.5 396.6,136.2 424.1,148.6 379.1,160.9" fill="#3e26a8"/>
<polygon points="365.6,145.5 366,141.2 366.4,141.2 366.8,145.5" fill="url(#g21)"/>
<polygon points="368.8,144.1 369.2,124.4 369.6,124.4 370,144.1" fill="url(#g22)"/>
<polygon points="372.3,144.7 372.7,128.4 373.1,128.4 373.5,144.7" fill="url(#g23)"/>
<polygon points="374.4,146 374.8,138 375.2,138 375.6,146" fill="url(#g24)"/>
<polygon points="377.6,147.9 378,118 378.4,118 378.8,147.9" fill="url(#g25)"/>
<polygon points="384,146.3 384.4,125.2 384.8,125.2 385.2,146.3" fill="url(#g26)"/>
<polygon points="386.4,144.7 386.8,121.2 387.2,121.2 387.6,144.7" fill="url(#g27)"/>
<polygon points="389.6,146 390,130 390.4,130 390.8,146" fill="url(#g28)"/>
<polygon points="393.6,147.9 394,135.6 394.4,135.6 394.8,147.9" fill="url(#g29)"/>
<polygon points="382.4,154 382.8,140.4 383.2,140.4 383.6,154" fill="url(#g30)"/>
<polygon points="396.3,146 396.7,138 397.1,138 397.5,146" fill="url(#g31)"/>
<polygon points="399.2,145.2 399.6,138.8 400,138.8 400.4,145.2" fill="url(#g32)"/>
<polygon points="403.5,138 403.6,130 404,130 404.1,138" fill="url(#g33)"/>
<polygon points="408,142.2 408.4,136.4 408.8,136.4 409.2,142.2" fill="url(#g34)"/>
<polygon points="416.8,146 417.2,135.6 417.6,135.6 418,146" fill="url(#g35)"/>
<polygon points="418.4,146.3 418.8,140.4 419.2,140.4 419.6,146.3" fill="url(#g36)"/>
<ellipse cx="395.4" cy="136" rx="6.5" ry="2.5" fill="none" stroke="#f00000" stroke-width="1.4"/>
<polygon points="460.8,148.5 505.6,136.2 533.1,148.6 488.1,160.9" fill="#3e26a8"/>
<polygon points="487,141.5 487.2,109.2 487.8,109.2 488,141.5" fill="url(#g37)"/>
<polygon points="24.8,238.2 69.6,225.9 97.1,238.3 52.1,250.6" fill="#3e26a8"/>
<polygon points="67,227.6 67,213.6 67.4,213.6 67.4,227.6" fill="url(#g38)" opacity="0.85"/>
<ellipse cx="68" cy="209" rx="6.5" ry="2.5" fill="none" stroke="#f00000" stroke-width="1.4"/>
<polygon points="351.8,223.8 396.6,211.5 424.1,223.9 379.1,236.2" fill="#2086dc"/>
<polygon points="385.1,234.4 386.7,234.4 386,243 385.8,243" fill="url(#g39)"/>
<polygon points="392.6,231.2 394.2,231.2 393.5,236.6 393.3,236.6" fill="url(#g40)"/>
<polygon points="409.4,227.2 411,227.2 410.3,233.4 410.1,233.4" fill="url(#g41)"/>
<polygon points="394.8,214 394.9,210.4 395.1,210.4 395.2,214" fill="url(#g42)"/>
<ellipse cx="395" cy="208.6" rx="6.5" ry="2.5" fill="none" stroke="#f00000" stroke-width="1.4"/>
<polygon points="460.8,221.3 505.6,209 533.1,221.4 488.1,233.7" fill="#16b8b0"/>
<polygon points="24.8,323.3 69.6,311 97.1,323.4 52.1,335.7" fill="#3e26a8"/>
<polygon points="67,320.4 67,300.6 67.4,300.6 67.4,320.4" fill="url(#g43)" opacity="0.85"/>
<polygon points="82.8,326 82.9,320 83.1,320 83.2,326" fill="url(#g44)"/>
<ellipse cx="68" cy="296" rx="6.5" ry="2.5" fill="none" stroke="#f00000" stroke-width="1.4"/>
<polygon points="133.8,323.3 178.6,311 206.1,323.4 161.1,335.7" fill="#3e26a8"/>
<polygon points="161.6,333.8 161.9,308.8 162.7,308.8 162.9,333.8" fill="url(#g45)"/>
<polygon points="176.2,318.7 176.3,304 176.7,304 176.8,318.7" fill="url(#g46)"/>
<polygon points="167.2,331.2 167.2,322.4 167.6,322.4 167.6,331.2" fill="url(#g47)"/>
<polygon points="192,323.2 192,319.2 192.4,319.2 192.4,323.2" fill="url(#g48)"/>
<polygon points="194.4,323.5 194.4,319.7 194.8,319.7 194.8,323.5" fill="url(#g49)"/>
<ellipse cx="177" cy="298.4" rx="6.5" ry="2.5" fill="none" stroke="#f00000" stroke-width="1.4"/>
<polygon points="351.8,323.3 396.6,311 424.1,323.4 379.1,335.7" fill="#3e26a8"/>
<polygon points="355.2,322.6 355.6,307.2 356,307.2 356.4,322.6" fill="url(#g50)"/>
<polygon points="356.8,322.6 357.2,313.6 357.6,313.6 358,322.6" fill="url(#g51)"/>
<polygon points="360,321.9 360.4,317.6 360.8,317.6 361.2,321.9" fill="url(#g52)"/>
<polygon points="364,319.4 364.4,312.8 364.8,312.8 365.2,319.4" fill="url(#g53)"/>
<polygon points="371.2,317.8 371.6,312 372,312 372.4,317.8" fill="url(#g54)"/>
<polygon points="372.8,318.7 373.2,304 373.6,304 374,318.7" fill="url(#g55)"/>
<polygon points="374.4,318.7 374.8,311.2 375.2,311.2 375.6,318.7" fill="url(#g56)"/>
<polygon points="379.2,321.9 379.6,307.2 380,307.2 380.4,321.9" fill="url(#g57)"/>
<polygon points="380.8,326.7 381.2,316.8 381.6,316.8 382,326.7" fill="url(#g58)"/>
<polygon points="388,325.1 388.4,316.8 388.8,316.8 389.2,325.1" fill="url(#g59)"/>
<polygon points="393.8,323.5 394,312 394.4,312 394.6,323.5" fill="url(#g60)"/>
<polygon points="403.2,317.1 403.6,312 404,312 404.4,317.1" fill="url(#g61)"/>
<polygon points="412,318.7 412.4,307.2 412.8,307.2 413.2,318.7" fill="url(#g62)"/>
<polygon points="413.6,318.7 414,310.4 414.4,310.4 414.8,318.7" fill="url(#g63)"/>
<polygon points="416.8,320.3 417.2,299.2 417.6,299.2 418,320.3" fill="url(#g64)"/>
<polygon points="418.4,321 418.8,315.2 419.2,315.2 419.6,321" fill="url(#g65)"/>
<polygon points="394,312.8 394,297.6 394.4,297.6 394.4,312.8" fill="url(#g66)" opacity="0.6"/>
<ellipse cx="395" cy="292" rx="6.5" ry="2.5" fill="none" stroke="#f00000" stroke-width="1.4"/>
<polygon points="460.8,323.3 505.6,311 533.1,323.4 488.1,335.7" fill="#3e26a8"/>
<polygon points="526.1,320.3 526.2,292.8 526.6,292.8 526.7,320.3" fill="url(#g67)" opacity="0.5"/>
<polygon points="24.8,413.7 69.6,401.4 97.1,413.8 52.1,426.1" fill="#3e26a8"/>
<polygon points="67,402.4 67,387.6 67.4,387.6 67.4,402.4" fill="url(#g68)" opacity="0.85"/>
<polygon points="49.8,416 49.9,408 50.1,408 50.2,416" fill="url(#g69)" opacity="0.8"/>
<ellipse cx="68" cy="383" rx="6.5" ry="2.5" fill="none" stroke="#f00000" stroke-width="1.4"/>
<polygon points="351.8,398.2 396.6,385.9 424.1,398.3 379.1,410.6" fill="#1fb994"/>
<polygon points="382.1,392.4 382.3,384 382.7,384 382.9,392.4" fill="url(#g70)"/>
<polygon points="386.1,394.4 386.3,384.8 386.7,384.8 386.9,394.4" fill="url(#g71)"/>
<polygon points="400.2,388.4 400.4,382 400.8,382 401,388.4" fill="url(#g72)"/>
<polygon points="405.8,390.8 406,383.2 406.4,383.2 406.6,390.8" fill="url(#g73)"/>
<ellipse cx="395" cy="394" rx="6.5" ry="2.5" fill="none" stroke="#f00000" stroke-width="1.4"/>
<polygon points="460.8,397 505.6,384.7 533.1,397.1 488.1,409.4" fill="#16b8b0"/>
<polygon points="24.8,497.9 69.6,485.6 97.1,498 52.1,510.3" fill="#3e26a8"/>
<polygon points="65.4,487 65.5,474 65.7,474 65.8,487" fill="url(#g74)" opacity="0.7"/>
<polygon points="72.8,488 72.9,459 73.1,459 73.2,488" fill="url(#g75)" opacity="0.8"/>
<polygon points="133,497.7 177.8,485.4 205.3,497.8 160.3,510.1" fill="#3e26a8"/>
<polygon points="134.3,497 135.2,472.8 135.6,472.8 136.5,497" fill="url(#g76)"/>
<polygon points="136.3,497 136.8,488 137.2,488 137.7,497" fill="url(#g77)"/>
<polygon points="158.3,490.6 158.9,480.8 159.2,480.8 159.9,490.6" fill="url(#g78)"/>
<polygon points="164.1,489 164.8,472.8 165.2,472.8 165.9,489" fill="url(#g79)"/>
<polygon points="168.3,488.3 168.8,484 169.2,484 169.7,488.3" fill="url(#g80)"/>
<polygon points="171.5,488.3 172,484.8 172.4,484.8 172.9,488.3" fill="url(#g81)"/>
<polygon points="179.5,487.4 180,480 180.4,480 180.9,487.4" fill="url(#g82)"/>
<polygon points="181.1,488.3 181.6,479.2 182,479.2 182.5,488.3" fill="url(#g83)"/>
<polygon points="183,489 183.6,478.4 183.9,478.4 184.4,489" fill="url(#g84)"/>
<polygon points="185.5,490.6 186.4,472 186.8,472 187.7,490.6" fill="url(#g85)"/>
<polygon points="187.5,490.6 188,481.6 188.4,481.6 188.9,490.6" fill="url(#g86)"/>
<polygon points="351.8,497.9 396.6,485.6 424.1,498 379.1,510.3" fill="#3e26a8"/>
<polygon points="355.7,496.3 356.1,482.4 356.5,482.4 356.9,496.3" fill="url(#g87)"/>
<polygon points="362.4,494.7 362.8,488.8 363.2,488.8 363.6,494.7" fill="url(#g88)"/>
<polygon points="367.7,494.7 368.1,486.4 368.5,486.4 368.9,494.7" fill="url(#g89)"/>
<polygon points="368.8,502.7 369.2,492.8 369.6,492.8 370,502.7" fill="url(#g90)"/>
<polygon points="372.8,493.1 373.2,478.4 373.6,478.4 374,493.1" fill="url(#g91)"/>
<polygon points="376.8,493.8 377.2,468 377.6,468 378,493.8" fill="url(#g92)"/>
<polygon points="380.3,492.2 380.7,484.8 381.1,484.8 381.5,492.2" fill="url(#g93)"/>
<polygon points="382.4,491.5 382.8,472 383.2,472 383.6,491.5" fill="url(#g94)"/>
<polygon points="384.8,490.6 385.2,468.8 385.6,468.8 386,490.6" fill="url(#g95)"/>
<polygon points="386.4,490.6 386.8,475.2 387.2,475.2 387.6,490.6" fill="url(#g96)"/>
<polygon points="389.6,490.6 390,480 390.4,480 390.8,490.6" fill="url(#g97)"/>
<polygon points="398.4,486.7 398.8,472 399.2,472 399.6,486.7" fill="url(#g98)"/>
<polygon points="401.6,488.3 402,475.2 402.4,475.2 402.8,488.3" fill="url(#g99)"/>
<polygon points="376,502.7 376.4,494.4 376.8,494.4 377.2,502.7" fill="url(#g100)"/>
<polygon points="383.2,504.3 383.6,496 384,496 384.4,504.3" fill="url(#g101)"/>
<polygon points="391.2,499.5 391.6,488 392,488 392.4,499.5" fill="url(#g102)"/>
<polygon points="416.8,496.3 417.2,492 417.6,492 418,496.3" fill="url(#g103)"/>
<polygon points="419.2,497 419.6,490.4 420,490.4 420.4,497" fill="url(#g104)"/>
<ellipse cx="394.6" cy="484" rx="6.5" ry="2.5" fill="none" stroke="#f00000" stroke-width="1.4"/>
<polygon points="460.8,497.9 505.6,485.6 533.1,498 488.1,510.3" fill="#3e26a8"/>
<polygon points="508.8,487.6 508.9,468 509.1,468 509.2,487.6" fill="url(#g105)" opacity="0.7"/>
<g clip-path="url(#c107)">
<polygon points="127.7,45.8 128.2,40.3 129,37 130.2,37.8 131.2,36.6 132,38 133.1,35.7 134.3,34.8 135.1,33.1 136.2,32.9 137.2,31 138.2,35.5 139,36.1 139.9,38.4 141,39.1 142.1,41.5 143,38.8 143.9,40.1 144.9,38.6 145.9,38 146.7,34.5 147.8,34.3 148.8,33 149.5,33.2 150.2,31.3 151.3,31.9 152.2,31.3 153.1,35.3 154.3,34.6 155.5,35.1 156.5,31.5 157.3,30.5 158.1,27.8 159.3,31.8 160,30.1 161.2,33 162.3,31.1 163.1,33.4 164.2,31.5 165.1,35 165.8,32.8 167,34.6 167.7,32.4 168.8,32.8 169.5,31 170.7,31.1 171.9,29.7 172.7,27.2 173.9,23.9 174.8,24.4 175.8,22.5 176.5,24.7 177.6,23.8 178.6,27.2 179.5,25 180.5,27 181.5,25.4 182.7,27.3 183.8,30 184.7,33.7 185.5,34.7 186.2,37 187.1,37.2 188,40 189.1,38.7 190,41.7 191,40.6 191.9,42.3 193,41 193.8,43 194.7,41.3 195.4,40.4 196.7,36.6 197.6,37.1 198.4,33.5 199.7,34.8 200.6,34.1 201.8,37.6 202.7,38.4 203.5,41.8 204.5,41.8 201,45 197.8,48.2 195.4,52.2 191.4,53 189.8,57.8 187.4,61.8 185,63.4 182.6,62.9 180.2,65.8 176.2,66.6 172.2,67.4 169,68.2 165.8,65.8 161.8,66.6 158.6,67.4 154.6,66.9 149.8,65.8 146.6,64.2 143.4,60.2 139.4,57.8 136.2,53.8 132.2,50.6 129,48.2" fill="url(#g106)"/>
<ellipse cx="136.2" cy="34.1" rx="3.2" ry="4.2" fill="#fdbd3d" filter="url(#b1)"/>
<ellipse cx="130.3" cy="38.3" rx="2.2" ry="2.9" fill="#eaba31" filter="url(#b1)"/>
<ellipse cx="133" cy="43.4" rx="6.4" ry="2.9" fill="#2fc5a2" filter="url(#b1)"/>
<ellipse cx="158.1" cy="33.8" rx="4" ry="4.8" fill="#68cd6b" filter="url(#b1)"/>
<ellipse cx="151.4" cy="34.6" rx="3.2" ry="4" fill="#3bc992" filter="url(#b1)"/>
<ellipse cx="176.2" cy="53.8" rx="2.9" ry="2.6" fill="#2fc5a2" filter="url(#b1)"/>
<ellipse cx="173.8" cy="61" rx="6.4" ry="3.2" fill="#3f6eff" filter="url(#b1)"/>
<ellipse cx="164.2" cy="57" rx="4" ry="2.2" fill="#249fe6" filter="url(#b1)"/>
<ellipse cx="199.4" cy="37" rx="2.9" ry="5.1" fill="#fec437" filter="url(#b1)"/>
<ellipse cx="193" cy="48.2" rx="4" ry="4" fill="#21c1b0" filter="url(#b1)"/>
<ellipse cx="159.4" cy="64.2" rx="9.6" ry="2.9" fill="#4433cc" filter="url(#b1)"/>
<path d="M140 49.5V51.9M181.9 48V51.4M174.8 47.4V49.2M168.4 53.2V57.3M194.3 48.3V51.7M145.8 40.8V46.2M180.2 49.1V52.8M166.2 41.2V45.4M139.8 49.4V54M178.8 35.6V37.6M153.7 55.7V59.8M184.5 45.7V49.2M196.4 40.5V43.1M172.7 51.2V54.9M170.4 46.7V51.6M195 48.7V51.6M163.9 62.3V65.5M175.5 59.2V64.1M158 56V60.5M196.9 43.7V47.9M201.3 40V43.5M198.6 44.6V46.7M134.4 48V51.7M157.5 39.4V44.3M198.8 36.7V40.5M178.2 34.3V37.9M139.6 46.8V49.5M135 40.8V43.1M137.8 37.2V40.8M152.6 56V59.6M147.1 40.6V43.6M184.2 39V42.8M188.9 54.2V58M191.6 47.7V50.4M135.9 36.4V41.8M157.9 59.4V65.6M197.3 41.7V43.3M149.5 40.1V44.8M181.1 59.7V64.1M200.2 40.5V44.4M191.1 44.7V50M183 56.5V58.4M143 56.8V59.1M162.5 51.6V55.5M194.3 49.9V51.8M139 53.5V56.6M147.5 39V40.7M172.3 39.5V43.8M197.6 41.2V47.4M134 46.4V51.4M200.2 35.3V39.3M170.3 52.1V56M149.3 60.4V64.9M181.1 61.1V64.1M134.9 45.7V47.8" stroke="#ffffff" stroke-width="0.4" opacity="0.16" fill="none"/>
<path d="M201.7 39.9V43.7M183.6 37.4V39.3M173.7 30.5V33.9M195.1 49V51.2M135.1 38V43.6M130.8 40V42.1M138.5 45.7V48.2M159.4 55.9V61M159.8 57.7V62.1M190.4 44.5V47.9M172.1 63.3V66.8M164.2 41V43.9M145 59.7V61.6M195.4 45.8V50.8M151 47.1V49.4M160.2 40.2V42.3M197.3 38V43.5M180.9 30V33.9M202.9 41V42.6M186.3 53.7V56.7M169.8 52.2V55.7M189.8 47.4V52.6M133.8 42.1V44M177 59.2V63.4M171 52.7V55.4M157.7 50.4V55.1M157.2 47.4V50.6M170.2 54.8V57.9M179.9 58V62.2M201.8 39.4V43.6M142.5 46.6V52.1M131.4 44V49.4M199.1 41.3V44.5M153.7 54.1V56M131.1 46.4V49.1M141.1 47.5V50.5M193.5 45V50M184.2 42.3V45.1M167.7 46.4V50.8M153.4 58.5V62.1M139.1 51.3V56.8M179.6 46.8V52.6M198.3 35.4V39.3M130.4 40.8V43.6M163.3 53.9V59.7M148.4 35V41.4M187.1 50.3V52.4M132.9 48.2V50.5M192.8 48.8V52.1M188.8 44.4V47.2M161.2 57V62.4M185.2 50.3V54.2M143.4 52.1V56.8M167.2 56.4V62.7M199.1 35.2V38.2" stroke="#3e26a8" stroke-width="0.4" opacity="0.22" fill="none"/>
</g>
<g clip-path="url(#c109)">
<polygon points="127.7,228.4 128.2,228.4 129.2,224.7 130,224.2 131.3,217.8 132.4,217.3 133.4,218.7 134.4,220.5 135.5,218.1 136.7,218.4 137.4,217.1 138.5,219 139.2,217.5 140,219 141.2,217.5 141.9,218.3 143.1,214.2 143.8,213.9 144.5,210.7 145.3,210.6 146.1,209.3 146.9,211.3 147.7,209.1 148.5,210.8 149.7,210.2 150.5,210.6 151.2,208.4 152.1,208.2 153.1,206.3 153.8,207.5 154.7,205.9 156,208.2 156.6,206.9 157.9,208.4 159.1,206.8 160.3,208.1 161.5,207.9 162.7,211.1 163.7,211 164.5,211.8 165.5,210.5 166.2,210.7 167.1,209.2 168,210 168.7,207.9 169.7,208.3 170.4,207.6 171.4,209.5 172.4,207.9 173.2,210.6 174.3,211 175.2,212.8 176.2,212.8 177.2,215.8 178,215 178.9,217.9 179.6,217 180.7,218.3 181.6,217.8 182.6,219.8 183.6,218.3 184.8,220.6 185.7,219.4 186.9,219.4 187.9,216.7 188.6,216.7 189.7,214.7 190.8,217.9 191.7,216.7 192.5,215.5 193.5,211.2 194.5,212.7 195.7,214.8 196.9,220 197.8,218.6 198.7,219.8 199.7,219.1 200.8,219.6 202.1,218.4 203.1,222.6 204.5,226 202.6,228.4 199.4,227.6 196.2,230 193,230.8 189.8,232.4 186.6,231.6 184.2,233.2 180.2,232.4 177,233.2 173.8,232.4 171.4,230 169.8,234 168.2,238 165,241.2 161.8,243.6 158.6,246 156.5,247.1 153.8,245.5 149.8,242.8 145,239.6 140.2,236.4 136.2,233.2 132.2,230.8 129,229.2" fill="url(#g108)"/>
<polygon points="175.4,213.2 188.2,215.6 194.6,210 205.8,218 205.8,235.6 169,235.6 170.6,226" fill="url(#g110)" filter="url(#b2)"/>
<polygon points="125.8,230 131.9,214.8 137,217.2 143.4,218 153,222.5 161.8,225.2 167.4,225.7 169,234 165,242 156.5,248.4 145,240.4 132.2,231.6" fill="url(#g111)" filter="url(#b2)"/>
<polygon points="162.3,228.4 166.6,224.4 170.6,226 171.9,230 169,235.9 164.5,242 159.4,246 161,237.2" fill="url(#g112)" filter="url(#b2)"/>
<polygon points="163.9,228.4 166.6,223.6 169,220.4 173.8,218 179.4,217.7 184.2,219.6 186.9,223.6 184.2,226 178.6,225.4 173.8,226.5 169.8,229.5 167.4,231.6" fill="url(#g113)" filter="url(#b2)"/>
<ellipse cx="159.4" cy="211.6" rx="2.6" ry="4.5" fill="#fec437" filter="url(#b1)"/>
<ellipse cx="138.6" cy="219.6" rx="3.5" ry="2.9" fill="#3bc992" filter="url(#b1)"/>
<path d="M135.7 228.9V232.3M144.8 231.6V236.1M190.5 225V230.1M186.5 223.2V225.2M195.7 217.6V221.8M202.6 223.2V226.1M157.4 216V221.2M151.1 212.2V216.6M148.2 216.1V217.8M191.3 223V227.4M164.7 235.7V237.6M176.1 227.9V230.9M161.2 220.2V223.4M199.2 221.9V227M132.3 226.2V228.2M187.6 219.2V221.8M148.6 219.3V224.6M166.5 212.5V215M160.1 232.8V237.4M164.6 234V240.2M199.5 225.3V227M202.2 224.5V227.7M172.3 216.7V222.4M157.4 241.1V244.8M130.6 226.8V229.4M129.3 226.9V228.7M194.1 219.8V222.2M145.1 225.3V230.1M170.4 214V216.4M201.3 225.8V227.4M167.6 212.3V215M170 228.3V232.7M137 230.5V233.2M160.9 234.4V238M169.1 209.5V211.5M198 222.8V228M156.6 222.8V225M195.5 218.6V223.9M142.2 222.8V224.8M180.6 229.3V231.8M176.8 219V225.2M137.4 221.9V226.2M176.5 219.4V223.8M137.5 219.2V222.9M171.8 225.9V229.8M198.5 224.7V227.7M181.6 223.9V228.5M180.2 221.6V224M153 226.7V228.6M155.5 213.2V219.3M162.6 228V230.3M162.5 239.7V242.5M196.7 220.8V226.5M189.1 221.8V225M196.7 221.9V224.8" stroke="#ffffff" stroke-width="0.4" opacity="0.16" fill="none"/>
<path d="M158.5 211.4V215.8M138.9 225.7V228.9M180.7 220.6V226.9M134.4 221.1V225.9M202.1 225.2V227.6M140.2 222.1V225.1M146.6 215.5V218.5M157 220.4V225.9M190.9 219.8V224M183.2 220V226.1M171.1 217.7V221.2M196 223.2V226.9M199.8 221.5V225.4M197.8 225.5V228.2M192.3 217.7V222.5M166.5 237.4V239M158.3 237.1V240.4M159.2 233.4V239.2M187.1 221.2V223.1M199.1 223.3V227.2M181.1 229.7V231.9M174.8 220.9V225.8M183.5 226V232.2M156.3 241V246.4M183.8 224.3V228.5M156.6 237.6V242.9M142.3 224.1V229.3M141 230.8V235.1M141.3 224.6V230.5M137.2 224.8V231.2M150.5 234.7V238.2M198.1 225.9V227.9M144.2 235.2V238.4M188.7 225.6V230.2M158.2 235.6V241.9M193.6 225.7V228.6M147.3 231.6V235.4M195.3 221.2V227.4M130.1 227.2V229.1M184.3 226.5V231.1M161.9 233.9V239.7M155.6 234.2V238.3M178.6 224.2V229.1M141.5 225.2V230.9M142.1 230.3V234.1M164.7 219.2V224.3M141.1 224.5V226.6M162.7 213.4V217.6M166.6 214.4V216.5M157.6 241.6V245.6M174.4 216V221.3M134.8 229.9V231.7M159.4 238.6V241.1M155.9 237.3V243.1M151.1 215.7V220.7" stroke="#3e26a8" stroke-width="0.4" opacity="0.22" fill="none"/>
</g>
<g clip-path="url(#c115)">
<polygon points="125.8,393.6 126.3,393.3 127.5,390.7 128.8,391.2 129.6,388.7 130.5,389.5 131.6,387.7 132.4,389.5 133.5,388.2 134.2,389.8 135.2,388 136.3,389.1 137.2,386.9 138,388.9 138.7,388.2 139.9,390.8 141,389.1 142.1,390 143.3,388.4 144.4,389.7 145.6,386.2 146.7,387.2 147.7,385.3 148.9,386 149.9,384.1 150.9,383.5 151.9,379.7 153,378.7 154.2,375.7 155.2,376.2 156.4,374.7 157.6,375.7 158.4,374 159.5,374.5 160.4,373.7 161.2,374.4 162.2,373 163.4,373.8 164.2,371.7 164.9,372.7 165.9,371.3 166.9,372.1 168.2,371.3 168.9,372.5 169.7,371.3 170.4,373.1 171.3,372.2 172.2,374 173.2,373.6 174.2,375.7 175.1,376 176.1,378.8 176.8,378.7 177.8,382 178.8,382.5 180,384.2 181.2,384.3 182,386.1 183.2,386.5 184.5,391.7 185.4,393.2 186.1,398.1 186.9,400 188,403.5 189,401.9 189.9,403.6 190.5,401.6 191.6,404.7 192.4,405.6 193.1,407 194.3,406.1 195,408.7 196.2,406.9 197,408.6 197.7,407.6 198.8,409.4 200.1,408.8 201.1,410.8 202.6,410.4 201,412 191.4,415.2 181.8,418.4 172.2,421.6 164.2,424 159.4,424.3 155.4,422.4 151.4,420 147.4,416 143.4,414.4 140.2,411.2 136.2,410.4 133.8,404.8 132.2,400 129,396.8" fill="url(#g114)"/>
<ellipse cx="135.4" cy="391.2" rx="9.6" ry="2.9" fill="#8dcb4f" filter="url(#b1)"/>
<ellipse cx="194.6" cy="410.4" rx="9.6" ry="4.8" fill="#422ebe" filter="url(#b1)"/>
<ellipse cx="185" cy="408" rx="4.8" ry="6.4" fill="#4743e7" filter="url(#b1)"/>
<ellipse cx="169" cy="419.2" rx="19.2" ry="4.8" fill="#4536d3" filter="url(#b1)"/>
<ellipse cx="140.2" cy="406.4" rx="4.8" ry="5.6" fill="#2d8cf3" filter="url(#b1)"/>
<path d="M137 397V402.6M160.6 385.9V390.7M149.8 403.6V406.4M183.2 389.5V392.5M196.1 408.8V412.3M140.9 397.9V402.3M197.9 410.7V412.4M183.9 401.4V403.4M147 395.3V398.8M186.5 401.2V405.6M148.7 393.8V399.6M132.1 395.5V399.3M148.9 409.2V411M154.1 387.3V393.1M187.3 411.7V414.6M135.4 404.7V407.4M143.1 391.9V397.5M160.2 383.3V385M161.1 376.8V378.4M162.4 401.1V405.3M195.3 408.4V410.3M134 398V402.8M143.9 402.7V404.5M136.6 394.1V396.4M147 394.7V398.3M190.8 410.8V414.7M138.7 404.8V408.2M194.6 410.4V413.5M170.6 374.3V377.3M140.1 395.6V400.9M156.6 382V387.4M148.3 389.5V392.9M153.3 400.1V404.8M185.3 406.5V410.4M149.6 406.2V411.2M193.8 410.6V413.8M128.9 391.8V394.9M176.2 411.9V416.4M146.6 402.7V405.2M166.8 374.5V380M198.4 409.8V412.2M131.5 390.1V394.6M132 392.8V396.6M185.6 413.1V416.5M129.5 391.8V394.1M165.1 388.8V392M165.1 392.5V394.6M191.9 408.5V410.9M158.5 411.6V414.9M130.8 393.8V398M173.6 394.5V397.1M131.9 394.4V396.7M197 409.7V412.7" stroke="#ffffff" stroke-width="0.4" opacity="0.16" fill="none"/>
<path d="M140.6 401.3V406M148.1 391.3V396.7M172.9 382.9V387.3M178.5 407.2V412.7M197.8 410.3V412.4M163.7 386.1V392.1M146.9 390.8V393M167.1 416.5V419.8M197.9 410.6V412.4M164 402V406.8M177.9 384.7V389.6M139.3 399.4V403.5M135.1 399.9V404.3M144.7 406.9V409.2M195.6 408.6V413.1M167.2 379.7V382.6M198.9 410.3V412.1M179.6 389.7V393.8M192.7 408.7V412.4M194.7 409.2V413.5M127.7 392.6V394.9M180.5 404.2V407.2M198.6 410.2V412.2M195.5 410.6V413.2M176.9 386.7V389.9M139.1 390.7V396.6M164.2 386.8V392.8M184 401.3V405.2M150.5 400.1V404.9M177.1 392.2V398.1M132.7 398.9V400.7M139.9 403.4V409.7M176.9 395.3V400.9M171.6 409V410.7M159.5 415.2V419.1M197.8 410.1V412.3M178.6 386.4V389.1M188.6 410.1V412.4M129.2 392.6V394.4M139.4 398.6V402M158.6 406V409M171.2 381.1V386.2M186.1 412V414.5M198.4 410.4V412.2M162.2 405.2V407.1M198.6 409.7V412.2M142.1 410.7V412.5M157.6 401.5V406.7M131.9 392V395.3M173.3 379.3V383.9M161.6 407.2V410.8M132.2 393.9V395.8M156.1 380.3V386.2" stroke="#3e26a8" stroke-width="0.4" opacity="0.22" fill="none"/>
</g>
<ellipse cx="176.7" cy="385.6" rx="6.5" ry="2.5" fill="none" stroke="#f00000" stroke-width="1.4"/>
<polygon points="292.8,37.8 293.4,25 293.6,25 294.2,37.8" fill="url(#g116)"/>
<polygon points="274.2,40.2 274.7,33.8 274.9,33.8 275.4,40.2" fill="url(#g117)"/>
<polygon points="268.6,41.8 269.1,36.2 269.3,36.2 269.8,41.8" fill="url(#g118)"/>
<polygon points="263,42.6 263.5,37 263.7,37 264.2,42.6" fill="url(#g119)"/>
<polygon points="280.7,38.6 281.1,35.4 281.3,35.4 281.7,38.6" fill="url(#g120)"/>
<polygon points="285,52.2 285.4,48.2 285.6,48.2 286.1,52.2" fill="url(#g121)"/>
<polygon points="244.9,46.6 247.1,46.6 246.2,54.9 245.8,54.9" fill="url(#g122)"/>
<polygon points="250.6,50.6 252.6,50.6 251.8,57.5 251.4,57.5" fill="url(#g123)"/>
<polygon points="279.9,54.6 284.1,54.6 282.2,65.5 281.8,65.5" fill="url(#g124)"/>
<polygon points="284.9,54.9 287.1,54.9 286.2,61.3 285.8,61.3" fill="url(#g125)"/>
<polygon points="287.6,54.3 289.5,54.3 288.7,60.4 288.4,60.4" fill="url(#g126)"/>
<polygon points="294.2,51.7 297,51.7 295.8,59.1 295.4,59.1" fill="url(#g127)"/>
<polygon points="299.4,49.5 301.4,49.5 300.6,55.6 300.2,55.6" fill="url(#g128)"/>
<polygon points="304.4,47.9 306,47.9 305.4,52.4 305,52.4" fill="url(#g129)"/>
<polygon points="309.4,46.6 310.6,46.6 310.2,50.1 309.8,50.1" fill="url(#g130)"/>
<polygon points="243.6,47.4 244.2,47.4 245.6,46.5 246.9,47 248.1,45.4 249.2,45.9 250.6,44.5 251.8,45.1 252.8,44 253.9,44.7 255.1,43.5 255.9,44 257.2,43 258.5,43.3 259.4,42.5 260.7,42.9 262,42 263,42.8 263.9,41.2 264.9,41.8 265.8,40.7 267.1,40.9 268.3,39.9 269.3,40.1 270.5,39.1 271.6,39.7 272.5,38.4 273.9,38.9 275.2,37.8 276.2,38.3 277,37.4 278.1,37.9 279.2,36.8 280.1,37.2 281.2,36.3 282.2,36.7 283.6,35.6 284.9,36.1 285.9,35.4 287.1,36.9 287.9,36.2 288.8,37.3 290,36.8 291,38.4 291.9,37.6 292.9,38.9 294.1,38.4 295.2,39.9 296,39.1 297.2,40.7 298.1,40.1 299.3,41.4 300.2,41 301.6,42.1 302.7,41.9 303.6,43.4 304.7,42.6 305.7,44 306.7,43.8 307.8,45.1 308.8,44.8 309.8,45.9 311.1,46.1 311.9,47.5 313.2,47.4 313.2,47.4 311,48.7 309.4,48.7 308.4,49.7 307.1,49.5 305.5,50.9 303.9,50.5 302.5,51.4 300.9,51.2 299.9,52.2 298.8,51.8 297.8,52.5 296.4,52.4 295,53.4 294,53 292.6,53.5 291.6,53.5 290.2,54.1 289.1,54.1 287.8,54.5 286.8,54.7 285.6,55.6 284.3,55.2 283,55.7 281.5,55.9 280.5,57 279.3,56.4 278.2,56.7 276.9,57 275.9,58.2 274.9,57.5 273.7,58 272.2,58.2 271,59.1 269.7,58.6 268.3,58.1 267,57.5 266.1,57.7 264.8,56.6 263.8,56.8 262.7,55.7 261.3,55.3 259.9,54.6 258.5,54.7 257.5,53.7 256.5,53.3 255.3,52.8 253.7,52.4 252.2,51.6 250.5,51.6 249.6,50.5 248.5,50.3 246.9,49.1 245.6,48.9 244.2,47.7 243.6,47.4" fill="#2db8a2"/>
<g clip-path="url(#c131)" filter="url(#b2)">
<ellipse cx="297.5" cy="44.3" rx="0.6" ry="1.4" fill="#01b9c6" opacity="0.57"/>
<ellipse cx="307.1" cy="48.5" rx="0.6" ry="1.1" fill="#01b9c6" opacity="0.65"/>
<ellipse cx="300.7" cy="42.5" rx="0.6" ry="1.3" fill="#20a4e3" opacity="0.65"/>
<ellipse cx="299.7" cy="43.5" rx="0.6" ry="1.1" fill="#8dcb4f" opacity="0.55"/>
<ellipse cx="276.9" cy="42.5" rx="0.5" ry="0.8" fill="#1caadf" opacity="0.67"/>
<ellipse cx="274.9" cy="51.4" rx="0.6" ry="1.3" fill="#1caadf" opacity="0.73"/>
<ellipse cx="260.8" cy="46.8" rx="0.6" ry="1" fill="#1caadf" opacity="0.48"/>
<ellipse cx="296.4" cy="46.4" rx="0.7" ry="1.1" fill="#1caadf" opacity="0.82"/>
<ellipse cx="308.5" cy="46.6" rx="1.1" ry="1.3" fill="#249fe6" opacity="0.61"/>
<ellipse cx="283.9" cy="47.4" rx="0.7" ry="1" fill="#01b9c6" opacity="0.75"/>
<ellipse cx="295.6" cy="44.6" rx="0.5" ry="1.1" fill="#249fe6" opacity="0.75"/>
<ellipse cx="295" cy="45.1" rx="1.3" ry="1.4" fill="#68cd6b" opacity="0.73"/>
<ellipse cx="251.1" cy="47.7" rx="0.6" ry="1.1" fill="#1caadf" opacity="0.46"/>
<ellipse cx="277.9" cy="44.5" rx="0.9" ry="0.7" fill="#15afd9" opacity="0.64"/>
<ellipse cx="295.1" cy="48.9" rx="1" ry="0.8" fill="#249fe6" opacity="0.72"/>
<ellipse cx="276.7" cy="53.7" rx="0.6" ry="1.3" fill="#20a4e3" opacity="0.55"/>
<ellipse cx="260.7" cy="52.2" rx="0.6" ry="0.7" fill="#0ab4d2" opacity="0.83"/>
<ellipse cx="262.2" cy="48.8" rx="1.3" ry="1.1" fill="#15afd9" opacity="0.74"/>
<ellipse cx="273.6" cy="48.2" rx="0.9" ry="1" fill="#1caadf" opacity="0.67"/>
<ellipse cx="265.5" cy="54.2" rx="1" ry="0.7" fill="#249fe6" opacity="0.46"/>
<ellipse cx="256.4" cy="45.1" rx="0.9" ry="1.2" fill="#1caadf" opacity="0.76"/>
<ellipse cx="257.9" cy="52.4" rx="0.7" ry="1.3" fill="#15afd9" opacity="0.66"/>
<ellipse cx="298.6" cy="45.2" rx="1.2" ry="0.9" fill="#15afd9" opacity="0.81"/>
<ellipse cx="253" cy="48.2" rx="1.2" ry="1.3" fill="#8dcb4f" opacity="0.84"/>
<ellipse cx="294.7" cy="51.9" rx="1.3" ry="1.3" fill="#20a4e3" opacity="0.71"/>
<ellipse cx="272.2" cy="49.1" rx="0.8" ry="1.2" fill="#68cd6b" opacity="0.67"/>
<ellipse cx="291.7" cy="43" rx="0.7" ry="0.7" fill="#1caadf" opacity="0.51"/>
<ellipse cx="305.6" cy="47.6" rx="1.2" ry="1.1" fill="#01b9c6" opacity="0.67"/>
<ellipse cx="289.9" cy="38.9" rx="1.2" ry="1.4" fill="#249fe6" opacity="0.50"/>
<ellipse cx="290.8" cy="40.2" rx="1" ry="0.9" fill="#0ab4d2" opacity="0.72"/>
<ellipse cx="293.3" cy="46.8" rx="0.5" ry="1.2" fill="#15afd9" opacity="0.48"/>
<ellipse cx="275.9" cy="49.7" rx="0.5" ry="1.2" fill="#249fe6" opacity="0.51"/>
<ellipse cx="272.9" cy="56.8" rx="0.8" ry="0.7" fill="#1caadf" opacity="0.60"/>
<ellipse cx="255.5" cy="51.3" rx="1.1" ry="1.4" fill="#68cd6b" opacity="0.70"/>
</g>
<polygon points="269.2,224.4 270,234 271.9,240.4 272.9,243.3 274.8,238.8 277.2,235.6 278.8,232.4 280.4,230 281.5,236.4 282.8,231.6 284.4,226 286,230 287.6,228.4 289.5,223.6 293.2,222 295.6,226 296.9,232.4 298.5,228.4 300.4,234.8 301.7,239.6 303.3,234 304.9,226 306,219.6 308.4,216.4 314,213.2 286.8,213.2" fill="url(#g132)"/>
<polygon points="243.6,212.9 286.8,201.2 314,213.2 270,225.2" fill="#fcbc3d"/>
<polygon points="267,383.2 267.4,376.8 267.8,376.8 268.2,383.2" fill="#fec13a"/>
<polygon points="288.7,380.8 289,376.8 289.4,376.8 289.7,380.8" fill="#fec13a"/>
<polygon points="291.1,380.8 291.4,377.3 291.8,377.3 292.1,380.8" fill="#fec13a"/>
<polygon points="293.9,382.1 294.3,376.3 294.7,376.3 295,382.1" fill="#fec13a"/>
<polygon points="282.9,396 285,396 284.8,400.6 283,400.6" fill="#422ebe"/>
<polygon points="293.3,392.8 294.7,392.8 294.6,398.7 293.4,398.7" fill="#463cde"/>
<polygon points="296.1,393.6 296.7,393.6 296.6,397.8 296.2,397.8" fill="#4743e7"/>
<polygon points="250.2,391.7 251.4,391.7 251.3,394.1 250.3,394.1" fill="#12beb9"/>
<polygon points="253.4,392.3 254.6,392.3 254.5,394.6 253.5,394.6" fill="#05b6ce"/>
<polygon points="243.6,388.5 270,380.8 271.9,379.2 286.8,376.3 314,388.5 270,400" fill="#c4c22a"/>
<polygon points="243.6,147.3 244.2,147.2 245.3,140.5 246.4,148.3 247.6,141.3 248.7,144.7 250,142.4 251,140.6 252.4,136 253.2,147.1 254.6,136.1 255.8,137.3 256.6,135.1 257.4,140.9 258.4,134.7 259.5,135.1 260.8,132.6 262,134.8 263.3,121.6 264.2,132.1 265.7,127.2 266.9,129.5 267.9,126.5 268.7,131.7 269.8,113.8 270.8,131 272.2,123.7 273.1,127.4 274.2,111.2 275.2,114.6 276.4,118.8 277.4,120.8 278.4,117.8 279.7,129.3 280.7,124.8 281.5,130.4 282.4,122.9 283.5,130.3 284.7,127 286,129.4 287,125.7 288,133.3 289.3,120 290.7,120.3 291.7,125.5 293,132.5 294.4,131.6 295.4,137.7 296.4,129.5 297.2,134.3 298.4,134.2 299.6,139.3 300.7,132.5 301.8,140.9 303.1,138.8 304,147.3 305.4,137.6 306.3,142.7 307.7,130.7 309.1,139.9 310.3,138.1 311.1,143.6 312.6,144.4 314,147.9 270,159.6" fill="url(#g133)"/>
<polygon points="244.3,149.2 245,142 245.4,142 246.1,149.2" fill="url(#g133)"/>
<polygon points="247.5,146.8 248.2,138 248.6,138 249.3,146.8" fill="url(#g133)"/>
<polygon points="250.7,144.4 251.4,135.6 251.8,135.6 252.5,144.4" fill="url(#g133)"/>
<polygon points="254.7,142 255.4,134 255.8,134 256.5,142" fill="url(#g133)"/>
<polygon points="258.7,138.8 259.4,130 259.8,130 260.5,138.8" fill="url(#g133)"/>
<polygon points="262.7,134 263.4,120.4 263.8,120.4 264.5,134" fill="url(#g133)"/>
<polygon points="266.2,132.4 267,125.2 267.3,125.2 268,132.4" fill="url(#g133)"/>
<polygon points="268.8,130.8 269.5,114.8 269.8,114.8 270.6,130.8" fill="url(#g133)"/>
<polygon points="273.9,124.4 274.6,109.2 275,109.2 275.7,124.4" fill="url(#g133)"/>
<polygon points="277.1,124.4 277.8,117.2 278.2,117.2 278.9,124.4" fill="url(#g133)"/>
<polygon points="281.1,130.8 281.8,122.8 282.2,122.8 282.9,130.8" fill="url(#g133)"/>
<polygon points="289.6,129.2 290.3,114.8 290.6,114.8 291.4,129.2" fill="url(#g133)"/>
<polygon points="307.5,141.2 308.2,128.4 308.6,128.4 309.3,141.2" fill="url(#g133)"/>
<path d="M277.1 143.4V150.1M254.6 138.9V143.7M263.5 148.3V155.1M285.7 142.1V148.8M254.7 143.5V146.9M306.3 137.8V145.5M249.9 146.7V149.6M272.3 151.6V154.2M249 147V149.2M251.1 148.4V150.1M252.5 143.3V146.6M266.1 145.5V149M292.2 130.5V134M300.2 141.3V146.4M285.3 140.2V145.1M246.9 146.4V148.2M311.1 145.2V148M269.5 145V151.7M252.6 141.6V146.3M279.6 149.7V155.3M300.7 141.5V147.2M260 141V145.9M297.2 135V140.9M257 147.3V149.9M263.6 133.1V139.6M248.4 143V146.7M264 138.6V147.1M277.5 153.8V157M307.6 138V141.6M295.7 148.9V151.4M263.1 147.4V152M261.3 135.8V138.5M286.9 152.5V154.5M279 125.5V129.9M298.3 147.5V151.4M260.5 143.9V149.3M287.4 133.9V142.3M305.6 140.5V144.8M304.1 143V149.9M279.8 146.5V153.4M259.4 137.8V141.9M291.2 143.3V146.5M305 143.3V147.2M274.4 155.3V157.8M287.3 150.7V154.4M296.5 139.3V145.5M306 145.8V149.4M268.5 139.3V146.4M283.1 127.8V134.8M306.2 145.7V149.4M306.6 142.3V149.2M270.6 126.5V131.2M266.1 153.8V157.1M281.6 143.1V146.3M281.1 145.8V150.7M261.6 141.9V146.4M291.4 129.3V132.3M266.1 147.5V154.7M289.6 150.1V153.8M246.9 146.3V148.2M257 147V151.6M261 141.4V149.8M245.4 144.5V147.5M258.5 142.6V146.4M307.2 140.8V147.6M255.9 142.8V149.1M302.1 140.4V145.7M302.9 147.1V150.2M281.4 147.4V152.3" stroke="#15afd9" stroke-width="0.45" opacity="0.55" fill="none"/>
<path d="M262.5 145.9V152.7M302.5 140.6V144.5M254.9 140.6V147.7M253.7 145.9V149.7M264.9 140.4V148.1M286.2 128.3V132.5M254.8 148.7V151.9M299.6 147.2V151.1M309.3 144.5V148.5M302.5 143.7V150.3M283.2 138.8V143.6M274 128.1V131.3M300.5 146.5V150.9M291.8 141.3V148.5M254 146.9V151.5M256.9 140.6V146.4M262.1 141.4V147.6M271.7 130.5V136M260.9 139.3V142.9M269.7 119.5V126.1M309.6 140.7V147.7M308.2 131.2V134.5M299.6 147.4V151.1M255.7 141.8V149.8M305 146.4V149.7M302.8 142.9V149.9M254.2 149.7V151.6M293.9 137.2V143.5M284.3 143.4V148.1M294.2 139.4V143.7M256 146.2V149.3M260.2 134.4V140.9M282.6 141.2V143.8M274.7 126.5V129.5M245.1 145.7V147.3M265.3 137.5V143.7M250.1 145.6V149.7M301.5 136.1V140.7M278.6 154.1V156.7M277.1 143.9V148.2M247 146V148.2M295 137.4V144.1M302.5 141.3V147.5M269 131.5V135.7M258.7 140.8V143.4M271.9 128.7V136M285.6 128.3V135.7M257.8 144.7V150.6M267.5 135.7V140.9M254.2 148.6V151.6M300.7 138.6V142.9M271.2 128.6V131.9M269.4 136V144M312 145.1V147.8M253.7 148.1V151.3M305.5 144V147.2M245.2 143.9V147.4M255 143.5V148.3M268.3 151.2V154.9M293.6 145V152.7M280.1 152.5V156.3M283.8 144.3V152M305.8 139.8V143.1M281.1 149V154.8M265.2 154.2V156.7M250.8 141V143.6M294.2 135.4V142.3M303.7 148.4V150M273.7 141.7V149.4M293.5 137.8V145.1" stroke="#402bb7" stroke-width="0.45" opacity="0.5" fill="none"/>
<ellipse cx="285.5" cy="129.5" rx="6.5" ry="2.5" fill="none" stroke="#f00000" stroke-width="1.4"/>
<polygon points="243.6,321.9 244.2,321.9 245.6,319.3 246.4,311.6 247.5,310.3 248.4,317 249.4,312.2 250.5,314.6 251.4,312 252.4,319.4 253.7,312.2 254.5,318.7 255.7,310.3 256.9,320.5 258,312.1 259,317.3 260.2,309.1 261.1,313.1 262.3,308.4 263.4,316.8 264.3,310.1 265.3,316.4 266.2,308.1 267.1,308.8 268,303.6 269.4,306.8 270.4,305.1 271.4,314.5 272.6,306.4 273.4,312.9 274.7,303.8 275.6,310 277,303.2 278.4,305 279.9,300.5 280.9,306.7 282.3,303.6 283.7,310.7 285.1,300.9 286.6,308.2 287.6,301.6 288.6,307.6 289.5,302.5 290.4,309.8 291.8,302.2 292.7,308.6 293.6,303.2 294.9,308.6 296,304.2 297,311 298.4,306.2 299.8,312.9 300.9,303.5 302.2,306.2 303.2,299.1 304.2,310 305.4,300 306.7,299.1 307.9,291.2 309.1,308.2 310,305.9 310.9,316.6 312,313.3 313.2,316.8 314.3,322.4 270,335.2" fill="url(#g134)"/>
<polygon points="245.6,318.4 246.3,304 246.6,304 247.4,318.4" fill="url(#g134)"/>
<polygon points="260.3,315.2 261,308 261.4,308 262.1,315.2" fill="url(#g134)"/>
<polygon points="268.3,312 269,302.4 269.4,302.4 270.1,312" fill="url(#g134)"/>
<polygon points="278.4,308 279.1,298.4 279.4,298.4 280.2,308" fill="url(#g134)"/>
<polygon points="285.1,308 285.8,300.8 286.2,300.8 286.9,308" fill="url(#g134)"/>
<polygon points="301.9,308 302.6,298.4 303,298.4 303.7,308" fill="url(#g134)"/>
<polygon points="307.2,303.2 307.9,291.2 308.2,291.2 309,303.2" fill="url(#g134)"/>
<path d="M293.4 322.9V326.4M312.9 315V321.7M251.1 321.3V324.6M293 320.5V327.8M275 328.2V333.1M252.8 319.9V325.9M295.3 315.1V319.4M309.8 309.4V316.6M302.4 304.7V309.2M265.7 321.4V326.2M305.8 321V324.2M305.9 302.4V305.4M290.2 322.4V328.7M312.5 319.8V322.3M295.5 324.2V327.2M278.6 307V310.3M277.6 322.4V331.1M253.8 319.5V326.4M297 317.3V321.2M287.9 311.1V317.6M289.1 313.9V321.4M272.4 319.6V327.3M262 313.7V319.8M274.5 328.5V332.5M270.2 307.9V313.2M266.2 319.3V326.6M247.4 321.5V323.2M300.2 316.7V322.8M272.8 317.6V321.4M265.5 316.5V321M306.7 317.4V323.9M246.1 320.4V322.5M292.1 313.5V320M306.6 304.7V309.6M296.7 313.5V320.5M271.9 309.2V314.5M249.5 320.8V324.3M281 327.4V331.2M275.3 310.7V313.4M301.1 306.4V314.8M282.8 322.2V324.9M306.7 317.3V320.3M257.3 316V321.7M250.2 321.1V324.6M292.9 310.4V317M275.8 322.4V327.4M312.3 319.8V322.3M268.1 310.8V314.2M253.9 324.5V326.4M304.2 308.9V315.3M261.9 315.9V323.1M286.3 326.9V329.8M263.3 313.2V317M311.7 318.6V322.5M268.1 325.7V332.5M255.5 313.3V316.8M300.6 319.6V323.4M260.8 315.6V322.3M295.9 311.5V316M261 327.4V330.1M308.9 306V312.5M283.7 327.4V330.6M260.5 325V329.8M279.6 310.5V313.5M275.2 329.6V333.1M275.5 320.4V324.3M252.3 320V325.6M304.3 310.4V317.9M301.6 315.5V320.2M258.2 323.3V328.6" stroke="#15afd9" stroke-width="0.45" opacity="0.55" fill="none"/>
<path d="M270.6 330.9V334.4M259.5 325.7V329.3M247.8 321.4V323.4M265.7 319V325.2M253.4 321.5V326.2M279.8 324.3V330.7M301.1 308.7V313.4M276.9 308.3V316.9M288.2 308V314.1M273.1 312.3V315.8M276.3 307.6V313.6M280 305.8V313.8M247.6 315.1V322.7M259.9 318.5V324.4M274.6 319.1V324.7M277.8 306.8V314.4M264.2 312.8V317.8M300.4 318.1V323.4M277.5 311V317.4M268.8 306.3V309.6M251.2 320.7V325.1M296.4 311.5V314.9M309.7 312.7V316.2M283.8 319.8V325.7M275.7 313.7V319.3M276.1 323.2V328.4M269.1 332.1V334.1M296.4 315V322.6M293.2 317.1V323.4M260.5 310.7V317.9M262.5 313.1V320.7M285.2 304V309.7M256 324.2V327.5M308.9 313.7V316.6M272.7 331.4V333.8M255.4 317.4V321.6M251.2 319.9V325.1M259.7 320.7V328.6M305.7 305V307.9M307.1 304.8V308.3M299.3 312.6V319.6M292 310.7V316M264.6 326.6V330.8M263.5 327.2V331.3M274.6 319.6V322M264.4 325.4V331.8M268.2 318.3V321M278.1 314V319.6M265.2 317V325.3M297.9 314.8V317.7M248.4 315.8V319M284.6 316.9V320.1M304.7 316.8V323.7M305.9 307.6V315.8M311.4 320.4V322.6M302.9 323.1V325.1M303.9 319.5V322.1M293.1 321.2V327.9M248.8 322.1V323.9M250.7 322.7V324.8M257 318.9V325.3M263.2 328V331.1M271.2 317.7V320.9M312.1 316.8V322.4M281.7 318.9V322.5M279.1 303.3V308.5M286.7 326.3V329.7M257.3 323.9V327.2M258.1 320.5V325.7M312.6 314.7V322.3" stroke="#402bb7" stroke-width="0.45" opacity="0.5" fill="none"/>
<polygon points="270.7,321.6 271.2,308 271.4,308 271.8,321.6" fill="url(#g135)"/>
<polygon points="283,314.4 283.5,306.4 283.7,306.4 284.2,314.4" fill="url(#g136)"/>
<ellipse cx="285.7" cy="292" rx="6.5" ry="2.5" fill="none" stroke="#f00000" stroke-width="1.4"/>
<polygon points="243.6,496.8 244.2,496.8 245,493.2 246.4,496.1 247.5,487.7 248.5,490.3 249.4,488 250.6,492.3 251.6,487.9 252.7,493 254.1,484.6 255,486.7 255.9,486.2 257.2,493.7 258.4,485.7 259.5,485.6 260.7,485.2 261.7,488.2 263,485.1 263.8,489.2 264.6,484.2 265.5,489.2 266.8,482.3 267.7,488.5 268.9,485.3 270.3,489.2 271.3,483.4 272.4,486.5 273.6,484.6 274.7,487.1 275.5,481 276.3,484.2 277.3,477.1 278.8,475.2 279.7,470.7 280.6,467.8 281.7,468.4 282.9,472.9 283.8,467.4 284.9,471.7 286.3,463.9 287.3,468.4 288.1,469.7 289.1,474.9 290,472.5 290.9,480.2 292.1,477.2 293.4,484.1 294.5,478.2 295.3,483 296.6,482.8 298,488.4 298.8,486.1 299.9,488.7 301.1,487 302.1,492.4 303.3,487.2 304.7,494.4 306.1,489.4 307.2,492.6 308.3,490.8 309.7,496.5 310.9,493.2 312.1,495.6 313,495.4 314.3,497.9 270,509.6" fill="url(#g137)"/>
<polygon points="247.5,494.4 248.2,486.4 248.6,486.4 249.3,494.4" fill="url(#g137)"/>
<polygon points="253.9,492 254.6,484.8 255,484.8 255.7,492" fill="url(#g137)"/>
<polygon points="258.7,491.2 259.4,484 259.8,484 260.5,491.2" fill="url(#g137)"/>
<polygon points="280,475.2 280.7,462.4 281,462.4 281.8,475.2" fill="url(#g137)"/>
<polygon points="283.5,473.6 284.2,464.8 284.6,464.8 285.3,473.6" fill="url(#g137)"/>
<polygon points="285.9,474.4 286.6,460.8 287,460.8 287.7,474.4" fill="url(#g137)"/>
<polygon points="294.7,485.6 295.4,477.6 295.8,477.6 296.5,485.6" fill="url(#g137)"/>
<path d="M288.5 485.4V492.4M249.4 495.2V499M286.3 471.4V476M263.1 492.9V499.9M277.1 504.5V507.1M260.1 496.1V501.9M254.5 493.5V496M270.4 497.6V504.4M310.3 495.7V498.3M277.3 485.3V492.5M305.8 492.1V499.4M264.9 489.3V494.6M273.4 491.8V495.9M274.4 499.7V503.1M270.3 491.5V498.6M261.8 499.4V502M303.2 493.4V500.2M299.1 497.9V500.4M295.9 491V499.1M283.5 482.4V490.6M259.9 488.2V493.4M289.7 478.9V485M281.9 497.7V501M254.5 493.4V500.6M284.9 494.7V498.8M247.1 494.5V497.9M246.7 491.9V497.7M290.3 481V485.1M273.4 486.3V490.6M261.2 488.1V493.9M309 493.5V498.7M286.7 474V480.5M297.6 490.2V495.2M287.6 483.9V487.5M272.4 500.6V506.8M267 490.6V494M290.3 496.1V500.1M287.2 468.4V471.9M285.3 483V488.1M248.6 492.7V498.1M260.5 496.7V500.5M269 489.4V497.3M282.9 500.8V505.4M297.8 495.7V498.4M307.7 495V499M270.2 492.4V499.7M274.7 493.7V498.9M291.7 492V495.9M284.3 502.4V505.2M303.2 497.1V500.2M311.3 495.3V498.1M272.6 488.1V491M268.8 496.6V502.8M304.7 494.9V499.8M245.2 495.1V496.9M301.2 490.3V493M301.3 498.8V500.7M249.5 496.7V499M305.4 495.7V499.6M305.9 494.2V497.8M256.5 493.4V500.9M302 493.2V497M253.2 491.4V499.3M248.8 494V498.7M281.6 494.3V497M276 498.6V501.9M264 495.4V503.1" stroke="#15afd9" stroke-width="0.45" opacity="0.55" fill="none"/>
<path d="M259.2 492.3V495.9M271.8 497.5V504M262.2 493.7V497.3M300.4 491.8V499.9M249.9 491.5V496.6M273.7 501.3V508M279.9 481.3V488.3M276.2 487.8V492.3M293.2 483.7V487.3M287.1 488.4V494.7M288.1 496.5V504.2M310.8 495.3V498.2M254.1 492.4V496M308.5 496.2V498.8M292 494.9V497.9M300 496.5V501M309.2 493.6V496.2M294.2 494.4V496.8M286.2 487.9V492.7M253.5 497.3V501M282.7 478.9V484.7M288.9 488.3V495.8M260.3 500.8V504.3M253.8 488.5V495.9M267.4 504V507.7M264 499.8V503.6M279 480.2V487.7M254.6 498.8V501.5M264.4 486.9V490.6M249.2 491.3V498.9M289.5 477.4V480.5M276.2 502.8V507.3M269.2 500.5V503.7M257.5 495.8V502.9M276.4 488.3V494.2M299.5 490.7V494.1M278.9 485.1V488.4M259.3 500V503.7M268 505.3V508M309 496.4V498.7M276.3 481.8V486.7M280.6 504.1V506.2M301.1 498.7V500.8M280.3 492.9V497.6M246.9 493.3V497.7M250.9 494.3V497.1M254 497.6V500.3M287.5 477.6V481.8M308.8 494.9V498.7M305.8 495.7V499M266.7 502.1V506.5M252.1 492.3V496.5M277.7 481.5V489.2M311.7 495.4V498M260.5 496.9V501.1M246 493.3V497.3M293.9 491V495.8M255.9 498.8V502.1M254.3 491.4V496.7M268.3 487.9V495.1M283.8 470.5V473M291.3 488.1V492.8M302.7 489.5V498.2M306.3 494.7V499.4M254.6 495.3V501.3M268.8 500.3V503.2M270.2 506.3V508.9M312.5 495.9V497.8" stroke="#402bb7" stroke-width="0.45" opacity="0.5" fill="none"/>
<ellipse cx="283.6" cy="483.2" rx="6.4" ry="7.2" fill="#2895ec" filter="url(#b1)"/>
<ellipse cx="285.5" cy="475.2" rx="6.5" ry="2.5" fill="none" stroke="#f00000" stroke-width="1.4"/></g>
<path d="M2.75 89.65H546.25M112.05 4.15V172.7M222.1 4.15V172.7M328.5 4.15V172.7M437.6 4.15V172.7M2.75 263.85H546.25M112.05 179.0V346.8M222.1 179.0V346.8M328.5 179.0V346.8M437.6 179.0V346.8M2.75 438.55H546.25M112.05 352.95V520.7M222.1 352.95V520.7M328.5 352.95V520.7M437.6 352.95V520.7" stroke="#4472c4" stroke-width="1.5" fill="none"/>
<rect x="2.75" y="4.15" width="543.5" height="168.5" fill="none" stroke="#2d53a3" stroke-width="1.65"/>
<rect x="2.75" y="179.0" width="543.5" height="167.8" fill="none" stroke="#2d53a3" stroke-width="1.65"/>
<rect x="2.75" y="352.95" width="543.5" height="167.8" fill="none" stroke="#2d53a3" stroke-width="1.65"/>
<g class="lb" font-size="7.9">
<rect x="24.3" y="6.2" width="69" height="13.8" fill="#f8caa9"/><text transform="translate(58.8 16.4) scale(1 1.1)">PROPOSED</text>
<rect x="133.4" y="6.2" width="69" height="13.8" fill="#f8caa9"/><text transform="translate(167.9 16.4) scale(1 1.1)">LCM</text>
<rect x="241.4" y="6.2" width="69" height="13.8" fill="#f8caa9"/><text transform="translate(275.9 16.4) scale(1 1.1)">MPCM</text>
<rect x="349.3" y="6.2" width="69" height="13.8" fill="#f8caa9"/><text transform="translate(383.8 16.4) scale(1 1.1)">IPI</text>
<rect x="457.3" y="6.2" width="69" height="13.8" fill="#f8caa9"/><text transform="translate(491.8 16.4) scale(1 1.1)">NRAM</text>
<rect x="24.3" y="91.1" width="69" height="13.8" fill="#f8caa9"/><text transform="translate(58.8 101.2) scale(1 1.1)">RIPT</text>
<rect x="133.4" y="91.1" width="69" height="13.8" fill="#f8caa9"/><text transform="translate(167.9 101.2) scale(1 1.1)">PSTNN</text>
<rect x="241.4" y="91.1" width="69" height="13.8" fill="#f8caa9"/><text transform="translate(275.9 101.2) scale(1 1.1)">TOPHAT</text>
<rect x="349.3" y="91.1" width="69" height="13.8" fill="#f8caa9"/><text transform="translate(383.8 101.2) scale(1 1.1)">MNWTH</text>
<rect x="457.3" y="91.1" width="69" height="13.8" fill="#f8caa9"/><text transform="translate(491.8 101.2) scale(1 1.1)">MRWTH</text>
<rect x="24.3" y="181.1" width="69" height="13.8" fill="#f8caa9"/><text transform="translate(58.8 191.2) scale(1 1.1)">PROPOSED</text>
<rect x="133.4" y="181.1" width="69" height="13.8" fill="#f8caa9"/><text transform="translate(167.9 191.2) scale(1 1.1)">LCM</text>
<rect x="241.4" y="181.1" width="69" height="13.8" fill="#f8caa9"/><text transform="translate(275.9 191.2) scale(1 1.1)">MPCM</text>
<rect x="349.3" y="181.1" width="69" height="13.8" fill="#f8caa9"/><text transform="translate(383.8 191.2) scale(1 1.1)">IPI</text>
<rect x="457.3" y="181.1" width="69" height="13.8" fill="#f8caa9"/><text transform="translate(491.8 191.2) scale(1 1.1)">NRAM</text>
<rect x="24.3" y="265.5" width="69" height="13.8" fill="#f8caa9"/><text transform="translate(58.8 275.6) scale(1 1.1)">RIPT</text>
<rect x="133.4" y="265.5" width="69" height="13.8" fill="#f8caa9"/><text transform="translate(167.9 275.6) scale(1 1.1)">PSTNN</text>
<rect x="241.4" y="265.5" width="69" height="13.8" fill="#f8caa9"/><text transform="translate(275.9 275.6) scale(1 1.1)">TOPHAT</text>
<rect x="349.3" y="265.5" width="69" height="13.8" fill="#f8caa9"/><text transform="translate(383.8 275.6) scale(1 1.1)">MNWTH</text>
<rect x="457.3" y="265.5" width="69" height="13.8" fill="#f8caa9"/><text transform="translate(491.8 275.6) scale(1 1.1)">MRWTH</text>
<rect x="24.3" y="354.5" width="69" height="13.8" fill="#f8caa9"/><text transform="translate(58.8 364.6) scale(1 1.1)">PROPOSED</text>
<rect x="133.4" y="354.5" width="69" height="13.8" fill="#f8caa9"/><text transform="translate(167.9 364.6) scale(1 1.1)">LCM</text>
<rect x="241.4" y="354.5" width="69" height="13.8" fill="#f8caa9"/><text transform="translate(275.9 364.6) scale(1 1.1)">MPCM</text>
<rect x="349.3" y="354.5" width="69" height="13.8" fill="#f8caa9"/><text transform="translate(383.8 364.6) scale(1 1.1)">IPI</text>
<rect x="457.3" y="354.5" width="69" height="13.8" fill="#f8caa9"/><text transform="translate(491.8 364.6) scale(1 1.1)">NRAM</text>
<rect x="24.3" y="440.2" width="69" height="13.8" fill="#f8caa9"/><text transform="translate(58.8 450.3) scale(1 1.1)">RIPT</text>
<rect x="133.4" y="440.2" width="69" height="13.8" fill="#f8caa9"/><text transform="translate(167.9 450.3) scale(1 1.1)">PSTNN</text>
<rect x="241.4" y="440.2" width="69" height="13.8" fill="#f8caa9"/><text transform="translate(275.9 450.3) scale(1 1.1)">TOPHAT</text>
<rect x="349.3" y="440.2" width="69" height="13.8" fill="#f8caa9"/><text transform="translate(383.8 450.3) scale(1 1.1)">MNWTH</text>
<rect x="457.3" y="440.2" width="69" height="13.8" fill="#f8caa9"/><text transform="translate(491.8 450.3) scale(1 1.1)">MRWTH</text>
</g><g class="nb" font-size="11.3">
<rect x="6.1" y="73.1" width="14" height="13.5" fill="#10eef0"/><text transform="translate(13.2 84.3) scale(1 1.07)">(7)</text>
<rect x="6.1" y="247.2" width="14" height="13.5" fill="#10eef0"/><text transform="translate(13.2 258.4) scale(1 1.07)">(8)</text>
<rect x="6.1" y="421.9" width="14" height="13.5" fill="#10eef0"/><text transform="translate(13.2 433.1) scale(1 1.07)">(9)</text>
</g></svg>
</body></html>
